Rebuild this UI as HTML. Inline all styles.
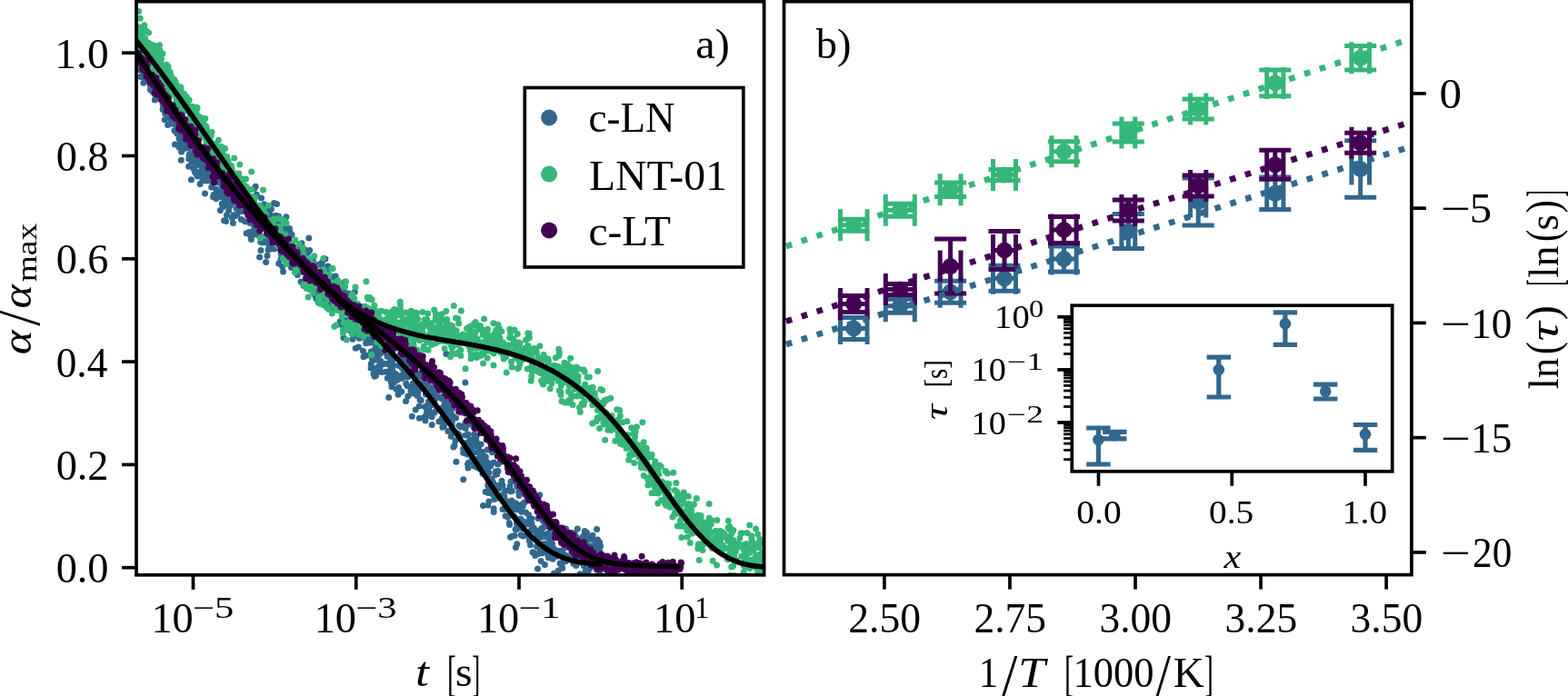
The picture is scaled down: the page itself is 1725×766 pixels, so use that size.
<!DOCTYPE html>
<html><head><meta charset="utf-8"><style>
html,body{margin:0;padding:0;background:#fff;overflow:hidden;}
svg{display:block;}
text{font-family:'Liberation Serif', 'DejaVu Serif', serif;fill:#000;}
</style></head><body>
<svg width="1725" height="766" viewBox="0 0 1725 766">
<rect width="1725" height="766" fill="#fff"/>
<defs><clipPath id="cl"><rect x="150.0" y="1.7" width="690.6" height="631.0999999999999"/></clipPath></defs>
<g clip-path="url(#cl)">
<path d="M150.3 64.1h.01M151.7 52.1h.01M151.9 61.4h.01M152.2 66.3h.01M152.7 61.1h.01M152.7 51.6h.01M152.9 63.3h.01M153 69.8h.01M154.2 76.9h.01M154.6 54.4h.01M154.8 84.4h.01M156 63.4h.01M156.5 77.1h.01M156.5 78.8h.01M156.8 77.7h.01M157.2 73.2h.01M157.3 65.2h.01M157.7 77.1h.01M157.7 68.7h.01M157.7 57.4h.01M157.9 91.2h.01M158.7 79.3h.01M159 86.8h.01M159.4 70.2h.01M159.6 85.5h.01M160.4 87.7h.01M160.8 88.2h.01M161.4 79.2h.01M162.9 74.1h.01M163 80.9h.01M163.2 68.2h.01M163.5 72h.01M163.7 83.8h.01M164.3 77.8h.01M164.9 84.1h.01M165.4 85.3h.01M165.5 98.8h.01M165.5 94.7h.01M165.8 86.4h.01M166.6 96h.01M166.7 83h.01M166.9 86.3h.01M166.9 94.5h.01M167.1 80.7h.01M167.4 87.5h.01M167.4 80.8h.01M167.6 90.5h.01M168 101.2h.01M168 85.5h.01M168.1 92h.01M168.3 84.9h.01M169.5 85.2h.01M170 85.4h.01M170.3 103.8h.01M170.3 110h.01M170.8 98.1h.01M171.4 91.1h.01M171.7 101.2h.01M171.8 94.4h.01M172.5 103.2h.01M172.7 100h.01M173.5 101.3h.01M173.8 104h.01M173.9 96.1h.01M175.3 99.6h.01M175.3 90.6h.01M175.6 99.8h.01M175.7 93.3h.01M176 102.4h.01M176 96.9h.01M176.8 105.5h.01M177.3 108.7h.01M177.8 96.6h.01M177.9 100.9h.01M179 101.8h.01M179 113.6h.01M179.1 120.4h.01M179.2 114.5h.01M179.3 106.3h.01M179.3 119.1h.01M180.2 99.8h.01M180.3 121.2h.01M180.5 106.5h.01M181.3 92.6h.01M181.3 131.8h.01M181.7 124.9h.01M182 106.5h.01M182.3 116h.01M182.9 114.3h.01M183.4 117.9h.01M183.8 106.5h.01M184 113.1h.01M184.1 122h.01M184.2 120.4h.01M184.3 128.1h.01M184.5 120h.01M184.6 137.6h.01M185.2 115.1h.01M185.5 123.5h.01M185.9 107.1h.01M186.1 112.6h.01M187.5 136.2h.01M187.5 117.9h.01M187.8 130.4h.01M187.8 125.6h.01M188 117.9h.01M188.5 124.6h.01M188.6 123.4h.01M188.9 124.2h.01M189.4 135.8h.01M189.7 135.5h.01M189.7 125.1h.01M191 124.8h.01M191.6 136.4h.01M191.7 133.3h.01M191.9 143.6h.01M192.4 159h.01M192.9 144.2h.01M192.9 136.3h.01M193.2 135.6h.01M193.4 129.8h.01M193.4 129.4h.01M194.2 130.1h.01M194.3 135.8h.01M194.5 135.8h.01M194.6 146.7h.01M194.6 136.3h.01M194.9 138.9h.01M196.1 131.6h.01M196.8 160.2h.01M196.9 149.4h.01M197 162h.01M197 152.5h.01M197.4 160.1h.01M197.7 143.9h.01M198.3 154.5h.01M199.3 176.2h.01M199.4 137.6h.01M199.5 161.6h.01M199.6 166.9h.01M199.8 154.7h.01M200 158.5h.01M200.7 164.8h.01M201.4 146.3h.01M201.4 157.3h.01M201.8 144.6h.01M201.9 146.7h.01M202.8 148.7h.01M203.8 155.1h.01M204.5 159.2h.01M204.8 162.9h.01M205.6 144.4h.01M207.6 183.3h.01M207.7 174.8h.01M208 170.6h.01M208 159h.01M208.4 162.6h.01M208.6 169.6h.01M209.6 169.6h.01M209.8 147.5h.01M210.2 174.1h.01M210.4 197.8h.01M210.8 147.1h.01M210.9 178h.01M212.7 173.9h.01M212.9 168.9h.01M213 185.3h.01M213.1 157.5h.01M213.2 172.3h.01M213.9 187.7h.01M213.9 169.5h.01M214 167.1h.01M214 173h.01M214.4 167.4h.01M214.5 189.4h.01M214.6 162.6h.01M214.8 182.5h.01M215 159.4h.01M215.2 180.9h.01M215.5 172.7h.01M215.6 145.5h.01M216 174.6h.01M216.1 162.9h.01M216.1 169.9h.01M216.3 192.3h.01M216.6 163.1h.01M216.9 164.2h.01M217.1 192.4h.01M217.4 178h.01M217.4 194h.01M217.7 180.8h.01M218.2 168h.01M218.5 177.5h.01M218.6 192.3h.01M218.8 189.4h.01M219.2 179.3h.01M219.5 180.3h.01M219.8 178.9h.01M220 174h.01M220.1 202.4h.01M220.1 180.7h.01M220.1 167.8h.01M220.5 175.8h.01M220.6 189.5h.01M220.7 188.7h.01M221 180.3h.01M221.2 174.6h.01M221.4 182.8h.01M221.6 163.7h.01M221.9 168.3h.01M222.3 192.8h.01M222.6 178.7h.01M222.6 188.5h.01M222.9 198.7h.01M224.5 194.4h.01M224.7 187.4h.01M225.5 213h.01M225.8 196.5h.01M226 185h.01M226.9 198.9h.01M227.2 195.5h.01M227.3 181h.01M227.7 192.3h.01M228.5 190.7h.01M228.9 170.1h.01M229.1 191.4h.01M229.4 190.6h.01M229.8 189.2h.01M230.2 175.6h.01M232 193.3h.01M232.4 197.6h.01M232.4 199.4h.01M232.6 184.8h.01M232.7 206.1h.01M233.1 184.5h.01M233.4 196.8h.01M234.5 216.8h.01M234.7 192.9h.01M234.9 195.4h.01M235 214.6h.01M235 197.1h.01M235.8 199.3h.01M237.7 208.2h.01M237.8 218.5h.01M238.6 179.6h.01M238.6 196.6h.01M238.9 194.8h.01M238.9 193.9h.01M239.9 198h.01M240.2 198.5h.01M240.3 212.6h.01M240.5 198.2h.01M240.7 210.8h.01M241.1 214.7h.01M241.8 201.4h.01M241.9 212.1h.01M242.4 231.6h.01M243.9 216.7h.01M244.1 204.6h.01M244.1 211.9h.01M244.2 201.1h.01M244.2 216.3h.01M244.3 223.9h.01M244.3 202.6h.01M244.4 210.4h.01M245 227.8h.01M245.1 207.4h.01M245.5 216.6h.01M245.8 201.3h.01M246 204.1h.01M246.6 208.5h.01M246.6 242.7h.01M246.9 210.3h.01M247.6 209.4h.01M247.7 209.1h.01M247.9 214.4h.01M248.5 225.5h.01M248.5 219.5h.01M248.6 243.6h.01M249 220.4h.01M249.5 236.8h.01M250.1 222.2h.01M250.1 226.5h.01M250.9 200.5h.01M251 217.8h.01M251.3 218.9h.01M251.4 216.7h.01M251.4 191.6h.01M251.6 231.7h.01M252.2 215.5h.01M252.6 215.2h.01M252.6 217.7h.01M252.7 218.1h.01M253 226.8h.01M253.1 204.6h.01M253.6 209.6h.01M253.7 226h.01M253.8 224.1h.01M253.9 217.2h.01M254 214.7h.01M254.8 211.9h.01M254.9 222.5h.01M255.3 239.6h.01M255.8 209.8h.01M256.4 245.5h.01M257 236.8h.01M257.5 219.5h.01M258.8 237.8h.01M259 206.8h.01M259.2 203.3h.01M259.5 209.6h.01M259.8 222.1h.01M259.9 223.5h.01M260.1 220.9h.01M260.1 229.6h.01M260.2 198.4h.01M260.9 235.9h.01M261.2 209.2h.01M262.2 220.8h.01M262.4 224.4h.01M262.6 214.1h.01M263.3 211.5h.01M263.8 217.1h.01M265.3 232.8h.01M265.3 241.6h.01M265.9 241.8h.01M266.3 219.4h.01M267.8 223.6h.01M268.1 222h.01M269.6 243.7h.01M269.7 206.5h.01M271.1 256.7h.01M271.2 230.7h.01M272.6 226.8h.01M272.7 244h.01M274 255.5h.01M275 245.4h.01M275.4 256.8h.01M275.7 242.6h.01M276 259.9h.01M276.1 260.2h.01M276.2 239.3h.01M276.4 263.4h.01M276.7 243.6h.01M276.7 242.5h.01M277.3 226.9h.01M277.8 237.1h.01M278.5 254.4h.01M279.4 221.6h.01M279.4 252.9h.01M279.4 248.1h.01M279.6 247.1h.01M279.8 207.5h.01M279.8 241.1h.01M280.5 253.6h.01M281 231.1h.01M281.1 245h.01M281.2 205.2h.01M281.6 254.6h.01M281.6 233h.01M282.2 258.2h.01M282.3 214.2h.01M283.3 255.9h.01M283.8 241h.01M284 258.3h.01M285 230.3h.01M285.2 235.5h.01M285.6 283h.01M286.1 232.3h.01M286.1 234.4h.01M286.2 241.6h.01M286.3 229.2h.01M286.7 266.3h.01M287 275.4h.01M287 234.8h.01M287.5 217.9h.01M287.9 266.7h.01M288.1 265.8h.01M288.3 261.1h.01M288.8 267.1h.01M289 233h.01M289.8 245.2h.01M290.4 225h.01M290.9 225h.01M292.3 266.5h.01M292.5 239h.01M292.6 288.5h.01M292.7 251.6h.01M293.6 240.5h.01M293.8 264.6h.01M294 281.4h.01M294.3 259.8h.01M294.6 231.9h.01M294.9 258.3h.01M295.1 275.1h.01M295.4 244.6h.01M295.7 240.2h.01M295.8 269.7h.01M296.7 256.1h.01M297.1 236.1h.01M297.5 248.2h.01M297.6 242.2h.01M298 259.6h.01M298.1 256.7h.01M298.2 273.6h.01M298.4 266.6h.01M298.4 229.9h.01M298.8 262h.01M299.7 270.6h.01M299.8 263.6h.01M300 272.9h.01M300 247.6h.01M300.1 241.3h.01M300.1 271.4h.01M300.5 239.8h.01M301.5 223.4h.01M301.7 274.1h.01M302 246.7h.01M302.2 253.4h.01M303.4 237.3h.01M303.7 238.7h.01M303.8 241.5h.01M304 254.1h.01M304.4 265.8h.01M304.5 224.4h.01M305.1 272.2h.01M305.2 242.3h.01M305.6 244.5h.01M305.6 271.4h.01M306 260.1h.01M306.4 238h.01M306.7 290.1h.01M306.9 248.8h.01M307 265.9h.01M308.4 266.2h.01M309 285h.01M309 256.8h.01M309.2 279h.01M309.4 252.8h.01M309.9 281.2h.01M310.2 253.2h.01M310.2 259.2h.01M310.6 293.3h.01M310.7 269.7h.01M311.4 267.2h.01M311.5 298.9h.01M311.9 271.3h.01M312.1 254h.01M312.2 277h.01M312.8 249.3h.01M312.8 283.3h.01M313 284.5h.01M313.2 258.6h.01M313.8 258.3h.01M313.9 270.1h.01M314.6 268.3h.01M314.6 253.8h.01M314.9 276.5h.01M314.9 238.7h.01M315.4 262.4h.01M315.5 262.9h.01M315.7 265h.01M316.3 273.8h.01M317 252.4h.01M317.5 278.7h.01M317.5 267.8h.01M317.9 261.4h.01M318.4 251.6h.01M318.7 254.5h.01M318.9 276.5h.01M319.5 258.3h.01M319.8 272.9h.01M320.2 287.3h.01M320.3 287h.01M320.5 294.5h.01M320.6 268.8h.01M321 258.2h.01M321.6 288h.01M321.8 278.3h.01M321.9 289.7h.01M322 274.4h.01M322.4 291.1h.01M323.1 287h.01M323.1 285.2h.01M323.4 282.6h.01M324.1 281.9h.01M326 281.6h.01M326.1 281.5h.01M326.2 291.9h.01M326.8 272.4h.01M327.2 302.6h.01M327.9 278.9h.01M328.3 293.7h.01M329.3 280.6h.01M330.5 279.7h.01M331 309.9h.01M331.6 280h.01M332 267.8h.01M332.5 275.7h.01M333.5 281.8h.01M333.9 314.4h.01M335 290.1h.01M335.3 299.9h.01M335.3 274.8h.01M335.8 292.8h.01M335.9 297.1h.01M336.3 312.2h.01M336.5 279.9h.01M337.2 297.5h.01M338.4 294.8h.01M338.9 278.1h.01M339.2 291.4h.01M339.7 288.7h.01M339.8 262h.01M340.3 300.5h.01M340.3 299.8h.01M340.5 287.3h.01M340.6 275.6h.01M340.6 312.3h.01M340.9 296.8h.01M341.2 306.8h.01M341.6 312.4h.01M341.9 287.5h.01M342.2 305.2h.01M342.7 292h.01M342.8 294.4h.01M342.9 294.3h.01M343.1 295.5h.01M343.6 310.5h.01M343.7 297.7h.01M344.1 294.5h.01M344.2 293h.01M344.3 301.1h.01M344.3 285.1h.01M344.8 290.6h.01M344.9 296.6h.01M345.1 290.1h.01M345.3 296.2h.01M345.3 289.8h.01M346.6 325.1h.01M346.7 316.4h.01M346.9 305.1h.01M347.5 299.2h.01M347.7 328.5h.01M348.4 304.9h.01M348.4 299.6h.01M348.4 304.7h.01M348.5 304.8h.01M348.5 319.1h.01M349.6 301.6h.01M349.7 329.3h.01M350.8 291.6h.01M350.9 312.2h.01M351.8 291h.01M351.8 327.7h.01M352.2 300.2h.01M352.3 303.8h.01M352.5 316.8h.01M352.8 321.4h.01M353.9 291.7h.01M354.2 301.9h.01M354.4 288.4h.01M356.1 310h.01M356.1 306.9h.01M356.3 303.9h.01M356.3 299.6h.01M356.5 303.6h.01M357 299.4h.01M357.1 316.1h.01M357.8 329.6h.01M357.9 284.9h.01M358 308.6h.01M358.2 304.9h.01M358.6 317.1h.01M358.8 298.5h.01M358.9 309.1h.01M359.4 298h.01M359.6 320.7h.01M359.9 313.3h.01M360.4 310.5h.01M360.5 317.5h.01M360.7 309.8h.01M360.8 292.9h.01M361.5 321.9h.01M362.4 319.1h.01M362.5 313.5h.01M363.8 330.1h.01M364.5 334h.01M364.9 304.6h.01M365.2 308.9h.01M365.4 339.5h.01M365.6 338.1h.01M366.2 310.9h.01M366.5 305.6h.01M367 313.3h.01M368.4 317.1h.01M369.2 304.1h.01M369.3 325.1h.01M369.5 308.4h.01M369.8 309.6h.01M370.2 337.8h.01M370.5 317.6h.01M371.5 326.9h.01M371.6 336.1h.01M371.9 338.9h.01M372.6 324.9h.01M372.8 330.1h.01M372.9 318.9h.01M374.1 354h.01M374.1 339.7h.01M374.2 317.1h.01M375.3 333h.01M375.4 342.3h.01M375.4 339.4h.01M376 357.6h.01M376.7 352.6h.01M377.1 328.4h.01M377.1 334.2h.01M377.6 319.4h.01M377.7 339.5h.01M377.9 338.4h.01M377.9 371.7h.01M378.5 338.5h.01M378.9 310.6h.01M379 329.3h.01M379.1 339.5h.01M379.1 321.8h.01M379.4 327.3h.01M379.5 333.9h.01M380 343.8h.01M381.6 339.4h.01M381.8 330.2h.01M381.9 352.2h.01M382 335h.01M382.6 336.3h.01M382.8 325h.01M383 333.1h.01M383.3 352.5h.01M383.7 323.1h.01M384.2 344.1h.01M384.5 355h.01M384.6 340.6h.01M384.9 349.2h.01M385.3 331.7h.01M385.4 364.1h.01M385.5 361.5h.01M386.7 351.6h.01M387.3 325.8h.01M387.6 335.8h.01M387.7 363h.01M388 373.2h.01M388 354.3h.01M388.1 367.1h.01M388.3 342.5h.01M388.5 348.4h.01M388.5 351h.01M388.5 356.6h.01M388.7 330.7h.01M388.9 364.2h.01M389 369.4h.01M389.5 336.8h.01M389.6 334.2h.01M389.9 357.7h.01M390 344.1h.01M390.3 321.3h.01M390.4 364.5h.01M390.4 355.7h.01M391.1 348h.01M391.2 383.3h.01M391.3 356.6h.01M391.6 345h.01M392.4 357.6h.01M392.5 342.3h.01M392.8 346.4h.01M392.9 362.2h.01M393.4 350.1h.01M394 352.3h.01M394.4 381.9h.01M395.3 372.2h.01M395.7 371.9h.01M397.9 371.3h.01M398.5 371.4h.01M399.4 386.2h.01M399.9 366.4h.01M400 392.7h.01M400.5 354.1h.01M401.4 365.1h.01M401.9 349.9h.01M402.4 365.3h.01M402.6 377.7h.01M402.8 391.2h.01M403.2 361.8h.01M403.3 371.4h.01M404.4 367.8h.01M404.5 362.5h.01M404.7 356.3h.01M405.2 374.9h.01M405.4 349.5h.01M405.9 376.6h.01M407.3 377.2h.01M407.7 368h.01M407.9 363.2h.01M407.9 357.8h.01M408 404.9h.01M408.1 358.7h.01M408.2 400.6h.01M408.3 387h.01M408.6 373.5h.01M408.6 362.1h.01M409.3 394.8h.01M409.4 404.9h.01M410 367.1h.01M410 376.4h.01M410.4 396.6h.01M410.6 386.4h.01M411 411.2h.01M411.5 374.5h.01M411.6 390.8h.01M411.8 364.9h.01M412.1 414.3h.01M412.6 373.7h.01M412.7 352.1h.01M412.9 382.9h.01M413.2 383.2h.01M413.4 413.6h.01M413.6 380.8h.01M413.9 386.1h.01M414.2 395.4h.01M414.3 410.1h.01M414.4 385.9h.01M415.6 404h.01M415.6 396.3h.01M415.8 384.5h.01M416 390.3h.01M416 389.6h.01M416.8 376.7h.01M416.8 408.4h.01M416.9 369.9h.01M417.1 408.1h.01M417.1 404.9h.01M417.6 390h.01M417.9 380.5h.01M417.9 388.5h.01M418.2 399.3h.01M418.3 403.5h.01M418.6 397.2h.01M419.8 409.4h.01M421.6 387.4h.01M423 400.2h.01M424.5 373.8h.01M424.5 409.2h.01M425.7 400.6h.01M426 392.2h.01M426.2 416.3h.01M426.5 409.3h.01M427.1 356.2h.01M427.3 399.9h.01M427.4 377.2h.01M427.5 415.7h.01M427.7 437.5h.01M427.7 391.7h.01M429 401.5h.01M429.5 396.8h.01M430 406.3h.01M430.1 410.9h.01M430.4 421h.01M430.6 386.2h.01M431 425.8h.01M431.2 387.4h.01M431.6 406.2h.01M431.6 419.8h.01M431.6 413h.01M431.8 387.7h.01M432 391.4h.01M432.5 395.4h.01M432.8 402h.01M433.4 420.8h.01M433.4 383.2h.01M434 410.8h.01M434.6 413.4h.01M435.6 413.2h.01M435.8 411.9h.01M435.9 428.3h.01M436.3 412.6h.01M436.6 418.6h.01M437.8 414.8h.01M438.1 434.2h.01M438.2 376.6h.01M438.5 426.5h.01M438.6 402.5h.01M438.8 402.3h.01M439 391.7h.01M440.3 378.4h.01M440.7 402h.01M441.1 397.4h.01M441.7 416.4h.01M441.7 385.5h.01M441.7 431.1h.01M441.9 413.1h.01M442.4 405.2h.01M443 398.3h.01M443.5 397.5h.01M443.7 392.2h.01M444.1 401.7h.01M444.4 410.6h.01M444.6 407.8h.01M444.9 388.5h.01M445 406.7h.01M445.9 397.4h.01M446.5 414.5h.01M446.5 441.6h.01M446.7 422h.01M446.7 407.1h.01M446.9 386.4h.01M447.3 390h.01M447.7 385.9h.01M448 424.6h.01M448.2 401h.01M448.4 414.3h.01M448.7 403.6h.01M448.8 415h.01M448.8 436h.01M450.5 403.8h.01M450.6 409.4h.01M451.7 402.7h.01M452 430h.01M452.1 399.5h.01M452.2 397.8h.01M452.3 393.8h.01M452.8 393.8h.01M453.3 424.4h.01M453.3 458.2h.01M453.7 401.1h.01M454.5 433.1h.01M454.5 421.8h.01M455.5 400.6h.01M456.2 414.5h.01M456.2 415.3h.01M456.3 407.9h.01M457.2 451.1h.01M457.4 388.9h.01M457.9 426.5h.01M458.3 426h.01M458.5 411.3h.01M458.5 423.2h.01M459.1 435.5h.01M459.7 424.2h.01M459.8 428.5h.01M459.9 433.1h.01M461.1 389.4h.01M461.2 447h.01M461.3 460.3h.01M462 439.5h.01M462 440.1h.01M462.1 400.4h.01M462.7 422.1h.01M463.1 411h.01M463.1 414.7h.01M463.3 440.4h.01M463.6 411.5h.01M464.1 423h.01M464.6 394h.01M465.7 423.8h.01M466 428.1h.01M466 415h.01M466.4 415h.01M467 458.7h.01M467 407.4h.01M467.4 410.3h.01M467.6 414.5h.01M467.6 447.8h.01M467.9 463.1h.01M468.4 434.1h.01M468.6 416.8h.01M468.9 421.8h.01M469 446.8h.01M469.3 414.1h.01M469.4 453.6h.01M470 453.6h.01M470.8 431.8h.01M471.5 441.9h.01M471.6 443.8h.01M471.8 457.4h.01M471.8 413.8h.01M472 451.3h.01M472.2 425.4h.01M472.3 419h.01M472.4 433.6h.01M473.1 428.9h.01M473.1 416h.01M473.6 406.1h.01M474.2 417.6h.01M475.2 458.7h.01M475.2 467.4h.01M475.5 445.5h.01M475.6 454.6h.01M475.7 426h.01M475.8 433.5h.01M476.2 440h.01M476.6 417.3h.01M476.7 418.8h.01M477 437.5h.01M477.5 430.9h.01M477.5 418.3h.01M477.6 442.9h.01M477.8 432.1h.01M478.1 454.1h.01M478.3 436.9h.01M478.5 432.1h.01M478.6 439.4h.01M479.4 435.1h.01M479.6 426.8h.01M480 431.7h.01M480.1 451.4h.01M481.3 451.2h.01M482.9 464.1h.01M483.2 413.7h.01M484.1 437h.01M485.4 438.3h.01M486.1 449.2h.01M486.3 438.8h.01M486.3 437.8h.01M486.5 460.2h.01M486.6 450h.01M486.8 427.2h.01M486.9 470.2h.01M487 464.5h.01M487.5 438.3h.01M487.7 462.6h.01M488.1 436.2h.01M488.5 468.7h.01M488.8 446.1h.01M489.1 436.4h.01M489.2 443.9h.01M489.2 437.2h.01M489.6 454.2h.01M490.3 454.7h.01M490.3 452.4h.01M490.8 442.9h.01M490.9 389.6h.01M491 454.3h.01M492.2 421.6h.01M492.7 459.2h.01M492.9 474.6h.01M493 460h.01M493.9 449.9h.01M494 453.5h.01M494 454.4h.01M494.5 447.8h.01M494.6 447.4h.01M495.2 442.3h.01M496.3 480.3h.01M496.3 459.5h.01M496.4 476.3h.01M496.8 456.1h.01M497 461.9h.01M497.1 457.8h.01M497.2 468.9h.01M497.3 475.3h.01M497.3 465.3h.01M497.5 449.7h.01M498.4 449.1h.01M498.9 492h.01M498.9 458.5h.01M499.7 459.3h.01M500 490.2h.01M501 485h.01M501.4 476h.01M501.6 460h.01M501.9 508.3h.01M504.3 477.6h.01M504.4 480.3h.01M504.9 468.5h.01M505.3 447.4h.01M505.6 449.2h.01M506 480.1h.01M506.2 480.2h.01M506.7 469.9h.01M506.9 453.9h.01M507 449.2h.01M507.6 469.6h.01M507.6 449.9h.01M509.6 493.9h.01M509.6 498.3h.01M509.7 527.7h.01M509.9 493.8h.01M511.5 470.6h.01M511.7 466.1h.01M511.8 420.9h.01M512.1 471.5h.01M512.2 478.9h.01M512.4 499.3h.01M512.5 493.3h.01M512.7 493.2h.01M513.3 487.5h.01M514 496.4h.01M514.5 511h.01M514.7 467.3h.01M514.8 478h.01M514.9 461.8h.01M515 514.9h.01M515.2 509.5h.01M515.4 500.2h.01M516.1 467h.01M516.3 491.5h.01M516.6 484.7h.01M517.1 491.2h.01M517.9 487.7h.01M518 500.2h.01M518 484.2h.01M518.5 507h.01M518.6 496.3h.01M518.6 486.9h.01M518.9 490.5h.01M519.1 485.1h.01M519.3 507.5h.01M519.5 488.6h.01M519.7 498.9h.01M520.8 488.5h.01M521.2 469.8h.01M521.6 512.8h.01M521.6 478.1h.01M522.4 510h.01M522.5 505.5h.01M522.7 469h.01M523.7 483.2h.01M523.8 491h.01M524.2 486.2h.01M524.2 479.8h.01M524.4 514.2h.01M525.2 498.1h.01M525.4 509.5h.01M525.6 495.4h.01M526.7 510.1h.01M526.8 491.6h.01M527 504.7h.01M527 515.6h.01M527.4 506.7h.01M528.3 499h.01M529.1 489.1h.01M529.2 511.6h.01M529.8 515.7h.01M530.3 505.8h.01M530.8 497.4h.01M531.1 521.3h.01M531.5 556.5h.01M531.6 507.1h.01M531.7 518.6h.01M532.2 520.1h.01M533.1 468.9h.01M534 518.4h.01M534.1 503.7h.01M534.1 541.2h.01M534.2 511.9h.01M534.4 502.8h.01M534.7 513.3h.01M535.1 521h.01M535.4 508.3h.01M535.5 517.6h.01M536 495.1h.01M536.5 516.1h.01M536.7 534.2h.01M536.8 555.9h.01M536.8 533.3h.01M537.3 526.2h.01M537.3 542.6h.01M537.4 539.8h.01M537.8 552h.01M537.9 541.8h.01M538 520.2h.01M538.9 528.4h.01M539.1 527.4h.01M539.2 529.7h.01M539.3 528.1h.01M539.5 510.6h.01M539.6 487.1h.01M539.7 512.9h.01M540.7 490.2h.01M541 528.3h.01M541.2 527.3h.01M541.5 497.7h.01M541.8 540.5h.01M542.4 544.6h.01M542.6 531.1h.01M543.1 559.8h.01M543.2 563.6h.01M543.3 508.9h.01M543.8 549.5h.01M543.8 539h.01M544 538.9h.01M544.5 548.7h.01M545.2 520.4h.01M545.2 522.6h.01M545.4 518.7h.01M546.6 521.9h.01M547.2 534.2h.01M547.6 511h.01M547.9 518.6h.01M548.4 547.9h.01M549 537.4h.01M550.1 546.8h.01M551.1 508.6h.01M552 529.3h.01M552.6 534.1h.01M552.7 544.4h.01M552.9 534h.01M553 560.5h.01M554.8 545.8h.01M554.9 547.2h.01M555 547.2h.01M555.7 560.2h.01M555.8 540.1h.01M556 567.8h.01M557.5 558.3h.01M557.5 553.1h.01M558.1 552h.01M558.1 560.2h.01M558.3 568.9h.01M558.4 567.9h.01M559.3 559.3h.01M559.4 567.9h.01M560.1 555.9h.01M560.2 575.4h.01M560.5 554h.01M560.5 519.3h.01M560.6 577.4h.01M560.8 556.7h.01M561 535.3h.01M561.2 552h.01M561.4 540.7h.01M561.5 591.3h.01M561.9 564.7h.01M562 529.9h.01M562.7 566.6h.01M563 551h.01M563.2 590.3h.01M563.3 540.4h.01M563.8 521h.01M564.2 560.4h.01M565 554.5h.01M565.2 553.6h.01M565.5 525.2h.01M565.8 568.5h.01M566.1 589.6h.01M566.2 530h.01M567.1 582.4h.01M567.3 553.8h.01M567.4 602.4h.01M567.4 570.6h.01M568 560.9h.01M568.2 582.7h.01M568.3 573.2h.01M568.4 554.7h.01M568.5 576.5h.01M568.7 556.5h.01M568.8 535.4h.01M568.8 598.7h.01M569.3 559.9h.01M569.6 556h.01M570.5 572.7h.01M570.7 541.7h.01M571 545.5h.01M571.8 560.5h.01M572.6 561.1h.01M572.8 571h.01M573.3 588.8h.01M573.7 563.2h.01M574 579.2h.01M574.4 581.5h.01M575 554.7h.01M575.2 576.3h.01M575.2 557.3h.01M575.3 590h.01M575.4 580.2h.01M576.4 574.2h.01M577 553h.01M577.5 577.1h.01M578.5 563.9h.01M580.2 589.3h.01M581 576.9h.01M581.6 566.6h.01M582.3 594.9h.01M582.5 591.8h.01M582.7 571.2h.01M583.5 599.8h.01M583.7 576.9h.01M583.9 576.9h.01M584.1 584h.01M584.8 570.8h.01M585 575.9h.01M585.9 581.2h.01M586 607.8h.01M587 608.2h.01M587.3 580.9h.01M588.7 611.4h.01M590.1 586.9h.01M590.3 593.6h.01M590.5 601.6h.01M590.6 592.5h.01M591.5 626h.01M591.8 592.7h.01M591.9 570.6h.01M592.3 609.5h.01M593 583.7h.01M593.4 585.7h.01M593.7 544.7h.01M593.9 606.1h.01M594 603.4h.01M594.9 603.7h.01M595 606.5h.01M595.1 617.4h.01M595.4 591.2h.01M595.6 606.4h.01M596.1 581.2h.01M596.1 587.1h.01M596.3 608.7h.01M596.9 599h.01M597.1 573h.01M597.2 598.8h.01M597.2 590.6h.01M597.3 581h.01M597.5 600.1h.01M598.6 588.3h.01M599 571h.01M599.1 578h.01M599.4 621.5h.01M599.5 572.2h.01M599.6 598.4h.01M599.9 604.4h.01M600.6 605.3h.01M600.7 577.4h.01M601 591.1h.01M601.9 598.5h.01M602.6 608.7h.01M602.6 587.3h.01M602.8 579.6h.01M603 611.9h.01M603.5 613.7h.01M603.7 602.9h.01M603.8 588.5h.01M604.2 603.7h.01M604.5 599.5h.01M604.8 610.4h.01M605 579.7h.01M605.2 599.9h.01M605.3 595.9h.01M605.7 582.1h.01M606 601.8h.01M606.5 599.4h.01M606.6 592.9h.01M607.2 605h.01M607.5 578.5h.01M607.5 598.5h.01M607.5 605.6h.01M607.9 603.7h.01M608.1 615.3h.01M609 582.5h.01M609.1 578.1h.01M609.1 603.5h.01M609.4 606.8h.01M609.5 631h.01M609.6 609.2h.01M610.1 587.8h.01M610.9 612.4h.01M612 589.1h.01M612.2 580h.01M613.1 606.3h.01M613.7 612.1h.01M614.1 610.1h.01M614.2 628h.01M615.5 606.6h.01M616.1 620h.01M616.9 588.5h.01M617.6 583.6h.01M618.2 623.5h.01M618.2 624.2h.01M618.5 610.6h.01M618.5 606.7h.01M618.7 605.9h.01M618.7 593.9h.01M618.8 625.2h.01M618.8 612.8h.01M619.2 610.8h.01M619.5 609h.01M619.6 618.5h.01M620.1 611h.01M620.1 614.4h.01M620.7 587.8h.01M620.8 611.2h.01M620.8 634.6h.01M621.3 597h.01M621.9 602.6h.01M621.9 616.8h.01M622.3 617.8h.01M622.3 613.2h.01M622.5 582.1h.01M622.7 611.5h.01M623 588.3h.01M623 593.2h.01M624 612.5h.01M624.3 600.9h.01M624.6 616.2h.01M625.1 615.8h.01M625.1 615.1h.01M626.9 593.2h.01M627.2 596.8h.01M627.9 591.2h.01M628.9 598.6h.01M629 591h.01M629.4 597h.01M629.5 603.1h.01M629.6 592.4h.01M630 586.8h.01M630.2 587.7h.01M630.4 612.2h.01M630.8 606.9h.01M630.9 619.9h.01M630.9 620.2h.01M630.9 601.5h.01M631.4 615.2h.01M632.1 587h.01M633.7 622.4h.01M633.8 603.6h.01M634.2 591.1h.01M635.3 611.7h.01M635.3 581.9h.01M635.4 596.4h.01M635.4 616.6h.01M635.8 607.7h.01M636.4 600.3h.01M636.7 619.3h.01M636.9 593.1h.01M637.1 610.6h.01M637.1 600.3h.01M637.4 595.7h.01M637.5 612.9h.01M637.6 593.9h.01M638.1 631.8h.01M638.2 599.3h.01M640.7 633h.01M641 593h.01M641.4 615.1h.01M641.6 591.8h.01M641.6 590h.01M641.9 609.4h.01M641.9 616.1h.01M642.2 591h.01M642.4 622.7h.01M642.6 597.2h.01M642.7 609.2h.01M642.8 612.4h.01M643 615.2h.01M643.3 584.5h.01M644.2 628.4h.01M644.3 614.9h.01M644.3 602.2h.01M645.2 594.7h.01M645.5 586.2h.01M645.5 590.5h.01M645.9 614.8h.01M646.5 603.6h.01M646.6 593.6h.01M646.7 601.3h.01M647.4 627.9h.01M647.9 604h.01M648 600.8h.01M649.3 625.3h.01M650.6 614.2h.01M651.1 609h.01M651.6 601h.01M652 589.2h.01M652.2 594h.01M652.8 602.7h.01M653.6 606h.01M653.9 613.2h.01M655 615.7h.01M655.8 611.7h.01M656.3 611.7h.01M656.6 596.7h.01M656.6 582.6h.01M656.8 602.6h.01M657.1 597.4h.01M657.2 601.1h.01M657.3 605.7h.01M657.6 593.9h.01M657.8 595.6h.01M657.9 607.9h.01M658.1 610.5h.01M658.4 601.2h.01M659.2 615.2h.01M659.6 606.6h.01M659.7 596.9h.01M659.8 609.7h.01M660.3 632h.01M660.6 601.1h.01M661.5 623.4h.01M661.7 625.9h.01" stroke="#31688e" stroke-width="7.0" stroke-linecap="round" fill="none"/>
<path d="M150.6 28.9h.01M150.8 36.1h.01M151.2 39.7h.01M151.3 45.5h.01M151.5 37.3h.01M151.7 53.6h.01M151.9 34.3h.01M152 30.9h.01M152.2 32.6h.01M152.6 12.6h.01M152.7 29.9h.01M153.6 49.1h.01M153.8 42.1h.01M153.9 31.6h.01M154.1 43.3h.01M154.2 20.2h.01M154.7 37.9h.01M155 46.3h.01M155.7 49h.01M156.7 36.1h.01M157.1 53.1h.01M157.2 62.5h.01M157.9 41.2h.01M158.4 53.2h.01M158.6 31.4h.01M158.8 27.7h.01M159.2 53.1h.01M159.2 47.7h.01M159.3 49.3h.01M159.8 42.5h.01M160.1 45.8h.01M160.7 57.1h.01M160.7 65.9h.01M160.9 47.7h.01M160.9 34h.01M161 62h.01M161 55.6h.01M161.2 56.7h.01M161.7 52.6h.01M162.4 73.9h.01M162.7 53h.01M163.4 58.2h.01M163.5 35.9h.01M163.6 48.1h.01M163.9 47.6h.01M164.3 54.3h.01M166.6 61.3h.01M167.5 52.4h.01M167.8 75.8h.01M167.8 49.8h.01M168.2 56.2h.01M168.3 62.7h.01M168.8 49.8h.01M169.7 67.8h.01M169.8 68.6h.01M169.8 60.1h.01M170.3 81.1h.01M172.2 67h.01M172.3 69h.01M172.9 58.6h.01M173.1 52.4h.01M173.2 62h.01M174 66.1h.01M174 65h.01M174.6 76.9h.01M175.4 49.7h.01M175.4 61h.01M175.9 55.6h.01M176.5 85h.01M176.6 68.1h.01M177.2 69.5h.01M177.5 64.8h.01M178.6 84.5h.01M178.8 73.1h.01M179 79.1h.01M179 59.1h.01M179.5 88.3h.01M180.2 82.6h.01M180.5 84.5h.01M181.1 91.5h.01M181.2 79h.01M181.5 79.8h.01M181.7 87.8h.01M181.8 85.5h.01M181.9 79.8h.01M182.1 82.6h.01M182.1 77.9h.01M182.2 88.7h.01M182.3 90.7h.01M182.7 83.3h.01M183.2 100.4h.01M183.5 71.2h.01M184.4 84h.01M184.6 101.2h.01M184.7 83h.01M185 73.3h.01M185.1 99.3h.01M185.4 92.5h.01M185.5 77.6h.01M185.6 94.7h.01M186.6 81h.01M187.2 79.3h.01M187.7 90.3h.01M188.1 88.3h.01M188.2 83.2h.01M189 90.7h.01M189.7 86.4h.01M189.7 95.5h.01M189.8 94.9h.01M191.2 103.8h.01M191.8 94.7h.01M192 87.7h.01M193.1 89.8h.01M193.4 99.2h.01M193.6 114.2h.01M193.7 108.7h.01M193.9 96.8h.01M194.8 111.3h.01M194.9 94.3h.01M195.1 112.4h.01M195.4 101.4h.01M195.6 111.1h.01M195.7 110h.01M195.8 102.8h.01M196.1 108.1h.01M196.3 97h.01M197.1 106.3h.01M197.2 115.8h.01M197.3 140.4h.01M197.3 112.9h.01M198 108.8h.01M198.4 100.4h.01M198.5 117.4h.01M198.9 96.1h.01M199 103h.01M199 112.4h.01M199.1 100h.01M199.6 122.8h.01M200.9 121h.01M201.7 108.8h.01M201.8 109h.01M202.7 104.2h.01M202.7 103.6h.01M203.8 119.9h.01M203.9 121.5h.01M204.1 119.6h.01M204.6 119.6h.01M205.1 113.6h.01M205.3 121.3h.01M205.4 106.7h.01M205.6 118.9h.01M206 131.2h.01M206.6 130.9h.01M207 117.1h.01M207 118.2h.01M207.7 133h.01M208 136.6h.01M208.1 110.3h.01M208.3 119.2h.01M208.5 124.8h.01M208.5 132.7h.01M209.1 117h.01M209.4 129.5h.01M209.7 122.3h.01M209.8 143.9h.01M210 128.6h.01M210.2 124.3h.01M210.2 122.8h.01M210.6 134.5h.01M211 132h.01M211.6 118.7h.01M211.6 129.2h.01M212.1 117.4h.01M212.2 122.2h.01M212.4 118.1h.01M213.5 119.4h.01M213.7 124.8h.01M214.2 123.2h.01M215.1 136.7h.01M215.3 139.1h.01M215.7 131.3h.01M216.1 124.9h.01M216.4 140.7h.01M216.6 118.3h.01M217 119.6h.01M217.7 142h.01M217.9 141.7h.01M218.3 144.8h.01M218.5 135.5h.01M219.5 128.6h.01M219.8 135h.01M220 144h.01M220.1 133.5h.01M220.7 134.8h.01M220.9 129.5h.01M222 132.9h.01M222.3 149.6h.01M223.4 148h.01M223.7 135.5h.01M224.2 136.8h.01M224.3 141.1h.01M225.2 151.4h.01M225.3 137.7h.01M225.3 145.7h.01M225.8 130.6h.01M226.7 139h.01M226.9 152.8h.01M227 156.8h.01M227.2 140.6h.01M227.9 144.6h.01M228.3 157.9h.01M228.5 148.6h.01M228.7 147.7h.01M230.1 158.2h.01M230.1 155.6h.01M230.3 163.2h.01M230.3 160.7h.01M230.7 150.2h.01M230.8 154.2h.01M231.8 156h.01M232.3 146.3h.01M232.3 149.4h.01M232.4 165.2h.01M233 145.5h.01M234 167.6h.01M234.6 162.8h.01M234.7 159.6h.01M234.9 165.2h.01M235.5 165.7h.01M235.7 171.8h.01M235.9 159.2h.01M236.3 161.1h.01M236.8 161.7h.01M236.8 178.8h.01M236.8 171.3h.01M237.9 157.9h.01M238.2 163h.01M238.6 160.7h.01M238.6 166.4h.01M239.7 169.7h.01M240.2 187h.01M240.4 154.3h.01M241.1 178.2h.01M241.1 173.5h.01M241.2 164.4h.01M242.1 170.2h.01M242.2 167.6h.01M243.3 173.5h.01M243.6 181.7h.01M243.7 161.5h.01M244.5 185.4h.01M244.7 172.2h.01M244.8 187.3h.01M244.8 178.6h.01M244.8 185.2h.01M244.8 179.9h.01M245 184.4h.01M245.1 176.2h.01M245.1 169.2h.01M245.5 181.8h.01M245.9 182.7h.01M247.3 195.9h.01M247.7 163.5h.01M248.9 179.7h.01M249 189.9h.01M249.7 172.4h.01M250 181.1h.01M250.3 200.4h.01M251 195.8h.01M251.2 177.5h.01M251.7 196.8h.01M252.3 195.8h.01M252.7 193.1h.01M253.2 190.5h.01M253.5 189.9h.01M254.7 182.6h.01M255.2 186.1h.01M255.3 196.6h.01M255.6 192.1h.01M255.6 206.2h.01M256.7 189.8h.01M257.7 174h.01M257.8 191.4h.01M259.7 199.2h.01M260.1 200.6h.01M260.8 198.9h.01M261.3 192.1h.01M261.3 211.7h.01M261.4 193.6h.01M262.5 206.9h.01M262.7 198.6h.01M262.8 191.1h.01M263.2 214h.01M263.7 181.1h.01M263.8 195.4h.01M263.9 206.6h.01M264.2 200.2h.01M264.4 210h.01M264.7 203.2h.01M265 200.5h.01M265.1 223.1h.01M265.7 203.4h.01M266.2 204.7h.01M266.6 197.3h.01M266.9 200.6h.01M266.9 212.8h.01M267.5 212.9h.01M267.9 208.5h.01M269.3 204.4h.01M270.4 218.1h.01M270.5 197.1h.01M270.5 209.2h.01M270.8 210.4h.01M271 205.5h.01M271.6 215h.01M272.9 209.7h.01M273.1 208.7h.01M273.1 232h.01M273.4 223h.01M273.6 227.3h.01M273.6 217.1h.01M274.6 226.7h.01M274.8 225.2h.01M275.3 229.8h.01M275.5 240.6h.01M275.6 217.3h.01M276 222.2h.01M276.1 219.6h.01M276.6 188.9h.01M276.8 208.4h.01M276.9 221.4h.01M277 227.2h.01M277.1 216.3h.01M277.8 232.8h.01M278.3 234.9h.01M279.2 220.6h.01M279.8 238.3h.01M279.9 241.5h.01M280.2 230h.01M280.6 217.3h.01M282.4 242.5h.01M282.7 227.8h.01M284.1 227.6h.01M284.1 232.3h.01M284.4 226.5h.01M284.7 242h.01M285.1 239.8h.01M285.1 244h.01M285.3 238.2h.01M286 226.3h.01M286.1 232.3h.01M286.1 242.2h.01M286.2 230.2h.01M286.5 262.1h.01M286.6 232.3h.01M287 229.6h.01M287 246.1h.01M287.4 242.8h.01M287.5 235.5h.01M287.7 233.8h.01M288.2 240.7h.01M288.8 245.5h.01M288.8 244.8h.01M289.1 235h.01M289.1 242.1h.01M289.2 246.1h.01M289.2 245.4h.01M289.5 208.9h.01M289.7 230.2h.01M290.3 232.1h.01M290.6 237.8h.01M290.7 241.7h.01M290.7 248.9h.01M291.4 247h.01M292.2 240.8h.01M292.3 242.4h.01M292.3 259.2h.01M292.4 236.3h.01M292.6 245.5h.01M293.2 258.6h.01M295.1 249.3h.01M295.3 226.2h.01M295.4 250h.01M295.8 243h.01M296 246h.01M296.2 257.7h.01M296.4 252.2h.01M297.2 246h.01M297.2 257.5h.01M297.7 253.6h.01M297.9 250.6h.01M298.1 252.8h.01M298.5 252.8h.01M299.8 248.7h.01M299.9 247.6h.01M300.3 252.9h.01M300.9 243.9h.01M301 240.9h.01M302.1 268.2h.01M302.3 252.8h.01M303.1 256h.01M303.4 255.3h.01M303.6 257.1h.01M303.8 257.3h.01M304.9 259.3h.01M305.1 250.4h.01M305.1 268.4h.01M305.2 251.7h.01M305.9 270.5h.01M306.3 240.4h.01M306.5 249.5h.01M307.1 271.6h.01M307.1 259.7h.01M307.3 254.5h.01M307.3 265.5h.01M308.2 251.7h.01M308.9 264.4h.01M310.1 241.4h.01M310.7 260.9h.01M311 259.2h.01M311 271.9h.01M311.3 275.8h.01M311.6 257.7h.01M311.6 284.2h.01M311.7 260.6h.01M312.5 245.8h.01M312.6 242.4h.01M313.5 285.9h.01M313.6 268.4h.01M313.9 262.6h.01M314.1 261.8h.01M314.2 258.2h.01M314.5 285.2h.01M314.6 269.7h.01M314.8 290.4h.01M315.1 268.9h.01M315.1 245.4h.01M315.1 280.4h.01M315.2 267.2h.01M315.9 269.5h.01M316.5 290.1h.01M316.6 270h.01M316.7 285.9h.01M316.8 273.2h.01M317.2 265.3h.01M317.7 279.9h.01M318.2 268.2h.01M318.2 288.5h.01M319.9 287.7h.01M320.1 277.8h.01M320.7 284.6h.01M320.8 284.3h.01M321.2 275.2h.01M321.2 288.5h.01M321.4 276h.01M321.4 285.6h.01M321.5 267.9h.01M321.9 280.3h.01M322 284h.01M322 270.4h.01M322.3 275h.01M322.5 273.8h.01M323.7 289.6h.01M324.1 273.5h.01M324.3 287.1h.01M324.4 299.7h.01M324.5 286.3h.01M324.8 264h.01M324.8 284.1h.01M325.5 295.5h.01M326 280.6h.01M326.3 297.2h.01M326.3 291.6h.01M326.9 289.9h.01M327.7 282.9h.01M327.8 280h.01M328.2 283.4h.01M328.2 287.3h.01M328.3 292.8h.01M328.6 291.9h.01M328.8 283.6h.01M328.8 288h.01M329.2 292.2h.01M329.3 268.6h.01M330 279.5h.01M330.7 279.8h.01M331.2 287.4h.01M331.6 287h.01M332.1 287.8h.01M332.2 280.5h.01M332.7 299.7h.01M333 295.2h.01M333.3 272.4h.01M333.4 292.5h.01M333.7 279h.01M334 313.6h.01M334.6 288.1h.01M335.2 289.5h.01M335.6 295.7h.01M335.6 292.3h.01M335.8 294.2h.01M335.9 313.9h.01M335.9 297.8h.01M336.5 305.9h.01M336.9 310h.01M337.2 284.4h.01M337.3 317.4h.01M337.7 305.5h.01M337.8 308.8h.01M338.1 286.7h.01M338.2 307.6h.01M338.3 302.7h.01M339.1 291.7h.01M339.1 326.9h.01M339.2 305.6h.01M340 296.4h.01M340 301.8h.01M340.1 310.8h.01M340.5 314.1h.01M340.8 307.5h.01M340.8 315.5h.01M341 318.8h.01M341.1 285h.01M341.6 294.9h.01M342.6 290.2h.01M343.2 303.9h.01M344.2 322.1h.01M344.2 312h.01M344.3 290.4h.01M344.4 300.1h.01M344.8 317.4h.01M345.6 298.2h.01M345.7 303.9h.01M345.7 309.1h.01M345.7 281.8h.01M345.9 315.4h.01M346.2 310.1h.01M347.4 314.2h.01M347.7 294.4h.01M347.9 297.3h.01M348.1 299.8h.01M348.6 311.3h.01M348.9 309.2h.01M349 310h.01M349.9 332.8h.01M350.2 326.7h.01M351.1 301.1h.01M351.6 302.5h.01M351.7 334h.01M351.7 307.1h.01M352.1 330h.01M352.3 333.1h.01M352.4 304.8h.01M352.4 308.5h.01M352.6 313.4h.01M353.1 301.3h.01M353.3 300h.01M353.3 307.7h.01M354.2 325.4h.01M354.2 308.1h.01M354.3 311.4h.01M354.3 307.9h.01M355.2 296.7h.01M355.5 335.5h.01M355.8 284.2h.01M355.9 307h.01M356.4 323.9h.01M356.5 297.6h.01M356.6 324.9h.01M357.5 334.6h.01M357.5 305.9h.01M357.7 320.6h.01M358.1 303.1h.01M358.6 325.7h.01M358.7 320h.01M359 322.1h.01M359.5 338.4h.01M359.5 326.2h.01M359.9 338.6h.01M360.1 329.1h.01M361.1 304.8h.01M361.7 325.6h.01M361.8 328.9h.01M361.9 302.1h.01M361.9 340.7h.01M362.5 323.8h.01M362.9 328.4h.01M363.8 311.6h.01M364 325.3h.01M364.3 328.9h.01M364.4 320.1h.01M364.6 326h.01M365 295.5h.01M365.4 345h.01M366.1 310.7h.01M366.1 295.6h.01M366.3 313h.01M366.8 315.3h.01M366.9 334.9h.01M367.2 314.6h.01M367.5 331.9h.01M367.7 314.3h.01M367.8 359.6h.01M368.4 336.4h.01M369.8 358.1h.01M370.1 315.7h.01M370.2 340h.01M370.2 316.7h.01M371.4 340h.01M371.5 341.4h.01M371.6 308.7h.01M371.8 315.5h.01M371.9 315.2h.01M372.8 311h.01M373.1 322.5h.01M373.2 319.2h.01M373.5 312.5h.01M373.5 335h.01M373.7 341.7h.01M374.5 315.2h.01M375.1 326.9h.01M375.3 335.3h.01M375.6 332.1h.01M375.6 325.2h.01M376.3 348.1h.01M376.4 348.7h.01M376.4 346.3h.01M376.7 333.4h.01M377.4 366.5h.01M377.4 362.9h.01M377.8 331.5h.01M377.8 335.7h.01M377.9 355.2h.01M378.3 326h.01M378.5 344h.01M378.9 339.1h.01M379.3 328.3h.01M379.4 335.4h.01M379.7 315.6h.01M379.9 331.2h.01M380.5 309.8h.01M381.3 373.9h.01M381.7 362.6h.01M381.8 358.5h.01M382.1 344.9h.01M382.1 355.2h.01M382.3 359.3h.01M382.6 355.7h.01M383.6 354.7h.01M385 328.7h.01M385.6 348.4h.01M386.2 334.8h.01M386.5 325.7h.01M387.1 326.6h.01M387.2 349.1h.01M387.5 358.1h.01M387.6 323.7h.01M387.7 368h.01M387.8 364.1h.01M387.9 337.9h.01M389.1 337.3h.01M389.1 342.8h.01M389.4 357.8h.01M389.7 338.7h.01M389.7 328.6h.01M390.5 349.3h.01M391 316h.01M391.2 346.7h.01M391.3 360.9h.01M391.9 349.3h.01M393 356.2h.01M393.3 352.4h.01M393.5 355.7h.01M393.5 347.7h.01M393.6 334.5h.01M393.9 342.9h.01M394.3 345.1h.01M394.5 363.3h.01M394.9 368.3h.01M395.2 352.2h.01M396.8 337.1h.01M397.1 337.6h.01M397.2 344.8h.01M398.3 366h.01M399 352.4h.01M399 347.3h.01M399.1 338h.01M399.3 359.7h.01M399.3 351.9h.01M399.5 347.5h.01M399.6 349.6h.01M399.7 370.2h.01M399.8 346.2h.01M399.8 370.3h.01M399.9 364.5h.01M400.1 349.1h.01M400.3 360h.01M400.7 347.1h.01M400.7 338h.01M401.4 345.5h.01M401.6 337.3h.01M401.9 355.7h.01M402.1 349.4h.01M402.6 356.6h.01M402.7 359.9h.01M402.9 309.8h.01M403.1 353.5h.01M404.2 327.2h.01M404.2 352h.01M404.5 339h.01M404.9 351.5h.01M405 367.3h.01M405 328.9h.01M405.9 352.9h.01M406.2 349.6h.01M406.8 327.5h.01M407.4 359h.01M407.8 351.6h.01M407.8 344.9h.01M408 342.4h.01M408.7 390.4h.01M409 346.8h.01M409.2 329.8h.01M409.7 340.5h.01M410 347.4h.01M410.2 347.3h.01M410.5 351.1h.01M410.9 339.7h.01M411.2 358.6h.01M411.6 346.6h.01M411.9 336.3h.01M412 342.8h.01M412.9 348.2h.01M413.3 362.7h.01M414.4 358.7h.01M414.7 349.3h.01M414.7 353.4h.01M414.9 355.7h.01M414.9 376.7h.01M415 346.2h.01M415.2 358.7h.01M415.7 361.8h.01M416.1 342.7h.01M416.6 355.9h.01M416.9 355.7h.01M417 348.5h.01M417.4 360.3h.01M417.7 365.6h.01M418.1 366.8h.01M418.3 352h.01M419.1 356.5h.01M419.3 380.4h.01M419.5 342.3h.01M419.9 357h.01M419.9 364.3h.01M420.6 356.4h.01M420.6 362h.01M421.9 357.1h.01M422 363.5h.01M423.3 369.8h.01M423.7 353.3h.01M423.9 358h.01M424 355.2h.01M424.1 351.4h.01M424.6 355.8h.01M424.7 343.6h.01M425.1 364.4h.01M426.3 375.3h.01M426.4 375.3h.01M426.6 370.7h.01M427.3 346.2h.01M427.4 373.6h.01M427.9 349.1h.01M427.9 356.4h.01M428.5 377.5h.01M428.5 345.4h.01M428.6 366.4h.01M429.4 360.5h.01M429.6 355.8h.01M429.7 347.9h.01M429.7 362.2h.01M429.8 352.4h.01M430.9 369.3h.01M431.1 371.4h.01M431.2 342.7h.01M432.1 352.6h.01M432.4 354.7h.01M432.9 345.4h.01M433.3 346.2h.01M433.5 359.5h.01M433.7 356.3h.01M433.8 340.4h.01M433.8 352.7h.01M434.2 364.4h.01M434.5 345.5h.01M434.6 348.6h.01M434.9 376.3h.01M435 373.4h.01M435.9 341.3h.01M437.2 344.6h.01M437.9 363.7h.01M438 346.5h.01M438.8 357h.01M439.4 354.9h.01M440.1 366.2h.01M440.2 332.3h.01M440.5 335.9h.01M440.7 346.7h.01M440.7 371.3h.01M440.9 358.5h.01M440.9 341.4h.01M441.2 365.7h.01M441.5 368.1h.01M441.6 357.7h.01M441.9 356.8h.01M441.9 365.3h.01M442.8 373.9h.01M442.8 362.3h.01M442.8 366.5h.01M443 360.1h.01M443 356.5h.01M443.1 350.6h.01M444.3 363.7h.01M444.3 357.6h.01M444.4 358.3h.01M445.2 371.3h.01M446.1 366.7h.01M446.7 371h.01M446.8 344.1h.01M446.9 367.6h.01M447.1 355h.01M447.2 352.6h.01M447.5 352.2h.01M447.7 374.9h.01M448.4 370.8h.01M449.7 354.1h.01M450.1 349.5h.01M450.6 362.3h.01M451.1 357.1h.01M451.7 380.5h.01M451.7 346.2h.01M452.2 342.2h.01M452.3 359.6h.01M452.3 362.5h.01M452.8 363.9h.01M452.9 370.8h.01M452.9 385.3h.01M453.2 358.8h.01M453.4 356.6h.01M454.2 343.3h.01M454.2 365.4h.01M454.3 372.1h.01M454.4 359.9h.01M454.7 375.8h.01M454.8 363.1h.01M455.1 379.5h.01M455.3 366.5h.01M455.8 351.3h.01M456.1 356h.01M458.1 346.4h.01M458.2 344.2h.01M458.3 366.2h.01M458.9 373h.01M459 384.9h.01M459 362.8h.01M459.5 360.9h.01M459.7 351.3h.01M461.8 374.7h.01M461.9 368.1h.01M462.9 357.4h.01M464.1 371.7h.01M464.5 370.3h.01M464.9 343.6h.01M464.9 372.4h.01M465 365.7h.01M465.4 360h.01M465.7 359.7h.01M466 383.6h.01M466.3 381.3h.01M466.8 384.5h.01M467.1 351.8h.01M467.1 357.3h.01M468.5 374.6h.01M469.5 351.5h.01M470.4 356.9h.01M470.6 345h.01M471.1 385.3h.01M471.5 376.7h.01M471.8 370h.01M472.5 367.5h.01M472.8 360.5h.01M472.9 360.7h.01M473.4 372h.01M473.8 357.4h.01M474.3 378.8h.01M474.5 359.9h.01M474.6 355.7h.01M474.9 379.6h.01M476.8 363.9h.01M477 371.6h.01M477.1 361h.01M477.7 340.9h.01M478.2 371.7h.01M479.1 350.9h.01M479.3 377.7h.01M479.4 348.7h.01M479.4 345.3h.01M479.6 369.2h.01M480.2 370.5h.01M480.8 367.2h.01M481 352.7h.01M481.5 375.9h.01M481.8 350.1h.01M481.9 361.1h.01M482.1 357.6h.01M482.7 362.2h.01M482.7 375.7h.01M483 359.4h.01M484 372.8h.01M484.1 374.3h.01M484.2 347.8h.01M484.8 353.9h.01M485.1 362.6h.01M485.6 360.4h.01M485.7 370.3h.01M486 345.7h.01M486.8 375.1h.01M486.9 375.3h.01M487.4 365.4h.01M487.9 352.1h.01M488 367.4h.01M488.1 361.5h.01M488.2 373.6h.01M488.4 366.5h.01M488.9 375.5h.01M488.9 362.7h.01M489.1 383.4h.01M490.7 342.5h.01M491.4 356.8h.01M491.5 373.4h.01M491.6 351.4h.01M491.6 376.1h.01M491.7 354.6h.01M493.7 369.4h.01M493.8 358.3h.01M493.8 363.6h.01M494 370.4h.01M495.2 367.5h.01M495.5 364.5h.01M495.5 392.4h.01M495.6 368.8h.01M495.8 358.1h.01M495.9 379h.01M496.3 377.9h.01M497.1 382.5h.01M497.3 388.7h.01M497.5 358.7h.01M498 380.8h.01M498.2 381.7h.01M498.3 369.2h.01M498.4 371.9h.01M499.3 336.4h.01M501.3 363.4h.01M501.3 389.4h.01M501.5 350.1h.01M502.1 364h.01M502.2 373.1h.01M502.5 376.3h.01M503.6 388.1h.01M503.8 350.8h.01M504.3 370.8h.01M504.5 379.8h.01M504.7 355.9h.01M505.4 370.1h.01M506.9 391.5h.01M506.9 385.3h.01M507.2 376.8h.01M507.3 342.1h.01M507.7 369.5h.01M508.1 375.3h.01M509.3 367.9h.01M511.7 371h.01M512.1 405.7h.01M513.6 369.7h.01M513.6 361.4h.01M514.1 374.8h.01M514.1 368.7h.01M514.4 368.8h.01M515.6 371.5h.01M515.7 381h.01M516.2 375.2h.01M516.7 359.4h.01M516.7 371.2h.01M516.9 377.9h.01M516.9 367.5h.01M517.3 385.4h.01M517.5 381.4h.01M518 362h.01M518 376.4h.01M518.1 394.7h.01M518.4 390.1h.01M519.6 372.6h.01M519.8 383.1h.01M520.1 365.9h.01M520.6 357.5h.01M521.3 379.7h.01M521.6 376.3h.01M521.8 379.3h.01M522.1 373.5h.01M522.3 377.3h.01M522.4 368.1h.01M522.6 379h.01M522.7 383h.01M522.7 373.2h.01M522.9 382.8h.01M523 354.4h.01M523 365.2h.01M524.2 390h.01M524.4 393.6h.01M524.6 377h.01M525.4 373.3h.01M525.6 360.5h.01M525.8 378.5h.01M526.1 383.1h.01M527 358.4h.01M527.1 380.9h.01M527.2 380.2h.01M527.3 379.6h.01M527.3 362.4h.01M528.3 381h.01M528.3 358.5h.01M528.7 391.5h.01M530.1 376.9h.01M530.2 362.6h.01M530.6 390.3h.01M530.6 388.2h.01M531.2 368.5h.01M531.6 400h.01M531.7 364.7h.01M531.8 379.2h.01M531.9 388.8h.01M532.6 351h.01M533.1 387.1h.01M533.8 375.5h.01M534.1 376.1h.01M534.4 364.5h.01M534.6 380h.01M534.7 364.2h.01M535 365.8h.01M536 371.8h.01M536.2 363.3h.01M536.2 394.1h.01M536.5 362.2h.01M536.8 368.6h.01M537.7 373.6h.01M537.9 377.2h.01M538 385.9h.01M538.1 386.2h.01M538.9 374.1h.01M540.2 373.5h.01M540.2 378.1h.01M541 387h.01M541.6 385.8h.01M541.9 372.5h.01M542.8 355.8h.01M543 402.1h.01M543.2 389.1h.01M543.2 381.5h.01M543.5 382.4h.01M543.6 373h.01M543.7 367.7h.01M543.9 375.1h.01M544 376.4h.01M544.9 372.2h.01M545.6 363.3h.01M545.8 376h.01M547 386.1h.01M547.3 374.4h.01M547.9 380.3h.01M548 357.3h.01M548 377.8h.01M548.1 378.8h.01M548.5 366.7h.01M549.4 361.5h.01M549.7 385.1h.01M550 371.8h.01M550.2 386.2h.01M550.7 376.3h.01M551 387.9h.01M551.8 377.6h.01M551.8 364.7h.01M552.6 380.6h.01M552.8 378h.01M553 389h.01M553.4 376.9h.01M553.6 377.5h.01M553.8 391.5h.01M554.2 395h.01M554.4 390.6h.01M554.9 393.9h.01M555.3 387.5h.01M555.6 391.1h.01M556.6 392.7h.01M556.6 387.4h.01M556.8 383.7h.01M556.9 384.6h.01M557.2 409.9h.01M557.9 383.5h.01M559.2 381.2h.01M559.4 379.8h.01M559.7 383.6h.01M559.7 386.8h.01M560.7 371.7h.01M560.8 362.2h.01M561.2 387.8h.01M561.6 366.6h.01M562 387.8h.01M562.4 386.6h.01M562.5 398h.01M563.1 404h.01M564.1 389.8h.01M564.8 379.6h.01M565 372.7h.01M565.2 377.1h.01M565.5 386.6h.01M566 362.9h.01M566.6 387.4h.01M566.7 386.5h.01M567.3 394.1h.01M567.5 383.1h.01M567.7 388.2h.01M567.9 378.7h.01M569 382.2h.01M569.3 367.4h.01M569.5 389.1h.01M569.6 405.4h.01M570 389.7h.01M570.4 392.2h.01M570.6 377h.01M570.7 404.5h.01M571 379.5h.01M571.4 397.6h.01M571.6 389.7h.01M571.9 377.7h.01M572.1 400.5h.01M572.7 389.2h.01M573.9 391.5h.01M574 394.7h.01M574.1 389.3h.01M574.6 385.4h.01M575.6 395.6h.01M577.2 386.2h.01M577.3 391.7h.01M577.4 383.2h.01M578.4 374.2h.01M578.8 383.8h.01M579.2 386h.01M580.2 392.4h.01M580.3 406h.01M580.5 372.7h.01M580.7 393.9h.01M580.7 366.7h.01M581 380.4h.01M581.4 386.9h.01M582.2 366.9h.01M582.4 371.6h.01M582.5 395.1h.01M582.9 394.3h.01M583.8 392.5h.01M583.9 384.5h.01M584.1 419.2h.01M584.7 392.4h.01M584.7 384.2h.01M584.8 414h.01M585.1 401.7h.01M585.2 390.2h.01M585.3 408.6h.01M585.9 396.7h.01M586.4 402.7h.01M587.2 398.2h.01M587.7 383.6h.01M588.3 407.4h.01M588.7 398.1h.01M589.4 384.7h.01M590.5 388.1h.01M591.7 409h.01M592.1 393.6h.01M592.2 398.5h.01M592.8 406.1h.01M593.4 400.2h.01M593.8 380.7h.01M594.4 406.7h.01M594.6 410.4h.01M595.4 410h.01M595.6 419h.01M595.9 404.3h.01M596.1 409.3h.01M596.2 419h.01M596.4 396.8h.01M596.5 421h.01M596.9 421.2h.01M597.1 409.9h.01M597.7 422.9h.01M598.1 411.3h.01M598.1 390.6h.01M598.4 414.9h.01M599.9 406.1h.01M600.1 407.2h.01M600.4 404.3h.01M601.4 419.2h.01M601.7 409.7h.01M602 395h.01M602.5 409.4h.01M602.7 412.4h.01M602.7 395h.01M602.8 398.5h.01M602.9 399.2h.01M603.4 396.8h.01M603.7 408.4h.01M604.2 416.7h.01M605.2 427.8h.01M605.4 419.5h.01M605.6 417.6h.01M606 419.3h.01M606.9 422.1h.01M608.4 402.4h.01M609.2 415.7h.01M609.3 411.4h.01M610.2 406.5h.01M610.3 402.6h.01M611 402.4h.01M611 405.3h.01M611.3 393.8h.01M611.5 415h.01M613.3 409.7h.01M613.4 411.3h.01M614.1 414.5h.01M614.1 419.2h.01M614.5 403.6h.01M614.7 409.5h.01M614.7 391.5h.01M614.7 384.2h.01M615.3 387.9h.01M615.3 429.7h.01M615.4 389.3h.01M616.1 417.4h.01M616.1 429.5h.01M616.3 406.4h.01M616.9 431.8h.01M616.9 434.4h.01M617.4 424h.01M618 441.4h.01M618.9 421h.01M619 404.9h.01M620.1 420.7h.01M620.7 409.5h.01M620.9 399.3h.01M621.1 399.8h.01M621.5 443.1h.01M621.5 408.9h.01M622 415.4h.01M622.3 408h.01M622.4 417.7h.01M623.4 413.9h.01M623.5 411.9h.01M623.8 402.5h.01M624.4 400.6h.01M625 409h.01M625.2 421.6h.01M625.3 443.1h.01M625.4 430.9h.01M625.8 440.5h.01M626.1 424.6h.01M626.2 417.8h.01M627.5 403.9h.01M627.6 419.9h.01M627.6 394.2h.01M627.7 416.4h.01M627.8 439.6h.01M628.1 424.2h.01M628.1 433.8h.01M628.3 415.9h.01M628.9 404.4h.01M628.9 415.2h.01M629.6 416.7h.01M629.7 436h.01M630.1 445.5h.01M630.6 413.4h.01M631 418.3h.01M631.2 421h.01M631.2 418.5h.01M631.4 408h.01M631.8 424.3h.01M632.1 427.7h.01M632.3 428.2h.01M633 409.7h.01M633.3 423h.01M634 404.1h.01M634.2 436h.01M634.6 413.2h.01M635 422.4h.01M635.9 421.1h.01M636 419.6h.01M636.2 414h.01M636.7 405.9h.01M637.5 448.6h.01M638 431.3h.01M638 431.4h.01M638.3 453.6h.01M638.6 427.5h.01M639.3 436h.01M639.9 430.1h.01M640.1 444.2h.01M640.2 436.1h.01M640.3 433.9h.01M640.4 427.2h.01M640.6 433.7h.01M642 445.6h.01M642.2 406.9h.01M642.3 430.3h.01M642.6 427.1h.01M642.7 428.6h.01M643.1 408.9h.01M643.1 441.4h.01M643.7 423h.01M645.8 432.3h.01M645.8 429h.01M646.1 415.3h.01M646.4 430.2h.01M648.3 415.1h.01M649.3 426.9h.01M650.1 435.1h.01M650.2 439h.01M650.5 440h.01M650.7 437.8h.01M651.7 466.1h.01M651.8 445.7h.01M652.1 426.2h.01M652.2 433.5h.01M653 433.7h.01M653.3 439.8h.01M654.2 435.5h.01M654.3 432.6h.01M655.7 464h.01M655.8 444.8h.01M656.2 440.6h.01M656.3 441.7h.01M656.7 442.5h.01M656.8 461.9h.01M657.4 451.5h.01M657.5 459.4h.01M657.6 408.6h.01M658.3 450.6h.01M658.6 459.7h.01M659.5 471.5h.01M660.1 448.8h.01M660.8 428.5h.01M661.7 457.1h.01M662.2 443.3h.01M662.7 429.6h.01M663.7 444.7h.01M663.9 465h.01M664.1 466.9h.01M664.3 461.4h.01M664.9 440.8h.01M665.6 484.3h.01M666.5 441h.01M666.8 454.5h.01M668.2 439.5h.01M668.8 473.3h.01M669.2 463.3h.01M669.7 469.2h.01M669.8 459.7h.01M670.6 458.6h.01M671.8 462.9h.01M671.9 438.3h.01M672.4 473.4h.01M672.7 472.7h.01M672.9 457.4h.01M674 463.1h.01M675.8 468.9h.01M676.8 485.3h.01M677.2 472.2h.01M678.6 469.1h.01M678.7 462.6h.01M678.7 450.7h.01M679.3 462.2h.01M679.5 470.5h.01M679.7 466.9h.01M679.7 470.8h.01M680.1 479.3h.01M680.1 475.6h.01M680.7 474.4h.01M680.7 479h.01M680.8 473.5h.01M680.9 470.9h.01M681.5 477.6h.01M681.7 451.6h.01M682.3 488h.01M682.4 457.7h.01M683 483.9h.01M683 474.1h.01M683.7 488.1h.01M683.9 475.5h.01M684.8 464.7h.01M685.1 489.3h.01M685.2 478.8h.01M685.3 478.1h.01M686.4 479h.01M689.1 493.4h.01M689.4 491.7h.01M689.4 484.6h.01M689.8 463.7h.01M690.5 478.4h.01M691.4 485.7h.01M691.7 506.3h.01M692.2 490.1h.01M692.6 484.8h.01M692.7 500.4h.01M693.6 485.9h.01M694 487.4h.01M694.5 490.3h.01M694.7 470.7h.01M695.1 500.7h.01M695.4 494.7h.01M695.7 486.6h.01M696.6 477.5h.01M697.2 494.5h.01M697.7 509.4h.01M698 485.4h.01M698.6 481.1h.01M699.1 499.6h.01M699.2 475.5h.01M700.5 469.7h.01M700.7 491.2h.01M701.8 489.7h.01M701.9 494.8h.01M702.1 491.8h.01M702.7 503.1h.01M703.9 498.1h.01M704.3 494.1h.01M704.7 496.3h.01M704.8 509.6h.01M705.4 514.4h.01M705.9 514.3h.01M706.3 512.4h.01M706.8 464.8h.01M707.4 493.3h.01M707.4 501.6h.01M707.8 508.4h.01M708.1 486.8h.01M708.2 523.6h.01M708.7 510.8h.01M709 500h.01M709 509.5h.01M709.4 503.9h.01M709.4 498.9h.01M710.2 515.3h.01M710.8 504.4h.01M711.2 493.3h.01M711.8 503.6h.01M712.2 510.5h.01M712.3 498.9h.01M712.6 527.6h.01M712.8 499.5h.01M712.9 534.1h.01M714.2 525.4h.01M714.2 503.2h.01M715.7 518.2h.01M715.9 531.3h.01M716 514.7h.01M716.2 502.7h.01M716.6 519.2h.01M717 542.7h.01M717.2 500.5h.01M717.8 526.3h.01M718.2 520.1h.01M718.8 519.5h.01M719.5 517.1h.01M719.8 518.3h.01M719.8 534.9h.01M720 529.8h.01M720.3 510.8h.01M720.6 542.4h.01M720.8 507.8h.01M720.9 531.9h.01M721.2 526.4h.01M721.2 538.8h.01M721.4 528.9h.01M721.7 537.8h.01M721.9 524.9h.01M722.4 537.7h.01M723.3 531.3h.01M723.7 554h.01M724.2 519.8h.01M724.2 543h.01M724.5 534.4h.01M724.7 531.2h.01M724.8 522.3h.01M725.6 535.7h.01M725.6 512.3h.01M725.8 513.8h.01M726.4 540.1h.01M727.1 513.3h.01M727.5 550.5h.01M727.7 529.8h.01M728.1 536.8h.01M728.6 535.3h.01M728.9 540.1h.01M729.2 531.9h.01M729.5 531.1h.01M730 534.8h.01M730.9 550.5h.01M731.4 552.3h.01M731.6 554.2h.01M731.8 543.4h.01M732 536.6h.01M732.1 518.6h.01M732.3 547.5h.01M732.6 550.3h.01M732.8 535.2h.01M732.9 550.3h.01M733 556.3h.01M733.9 542.9h.01M734 554.9h.01M734.2 546h.01M734.3 520.9h.01M734.5 536.7h.01M734.5 537.5h.01M734.6 549.2h.01M734.7 532.2h.01M735.3 538.2h.01M735.9 532.6h.01M736 544.1h.01M736 545.4h.01M737.2 558.3h.01M737.5 556.5h.01M738.1 549.5h.01M738.6 551.1h.01M738.8 549.7h.01M739.4 550.5h.01M740 569.1h.01M740.8 520.2h.01M741.7 550.1h.01M741.9 556.4h.01M741.9 566.6h.01M742.4 539.5h.01M742.4 557.5h.01M742.5 564h.01M743.7 549.4h.01M743.9 531.4h.01M744.1 550.9h.01M744.7 541.3h.01M744.9 564.5h.01M745.1 546.2h.01M745.3 579.1h.01M745.4 558.8h.01M746.2 548.1h.01M746.2 551.8h.01M746.4 544.8h.01M747.4 564.5h.01M748 579.1h.01M748.2 558.1h.01M748.5 572.7h.01M748.9 549.8h.01M749.6 566.4h.01M749.8 591.6h.01M750.4 545.9h.01M750.8 579.3h.01M750.9 578.7h.01M752.2 542h.01M752.5 547.8h.01M752.9 554h.01M754.2 579.9h.01M754.3 562.4h.01M754.5 565.9h.01M755.1 577.6h.01M755.3 570.4h.01M755.5 571.9h.01M755.9 565.6h.01M756 583.8h.01M756.1 560.1h.01M756.2 590.9h.01M756.4 565.8h.01M756.6 560.3h.01M756.8 578.7h.01M756.9 576.3h.01M757.3 546.2h.01M757.5 574.1h.01M757.6 554.4h.01M757.7 561h.01M758.6 582.3h.01M758.7 561.6h.01M759.1 577.4h.01M759.1 568.2h.01M759.3 597.5h.01M759.9 572.6h.01M760.4 559.4h.01M760.4 560.4h.01M760.5 562.9h.01M760.5 576h.01M760.9 574.7h.01M761.1 587.2h.01M761.5 577.5h.01M761.7 577.2h.01M761.8 579.8h.01M762.1 574.3h.01M762.4 579.9h.01M762.4 586.1h.01M762.6 586.3h.01M762.9 569.9h.01M763.5 554.9h.01M764.8 568.3h.01M765.9 583.2h.01M766.3 548.5h.01M766.5 574.2h.01M766.5 585.9h.01M766.6 573.2h.01M767.6 567h.01M767.8 603.7h.01M768.1 599.3h.01M768.3 578.6h.01M768.6 598.9h.01M768.7 598.7h.01M768.8 567.9h.01M769.2 616.6h.01M769.5 571h.01M770.3 580.3h.01M771 570.3h.01M771 585.2h.01M771.1 567.6h.01M771.9 584.9h.01M772 598.8h.01M772.3 588h.01M772.6 582.2h.01M772.9 605.5h.01M773.6 575h.01M774.1 599.1h.01M775.5 584.1h.01M775.7 590.8h.01M776.3 588.9h.01M776.6 590.4h.01M777 588.4h.01M777.1 579.2h.01M777.2 582h.01M777.4 595h.01M777.5 588.1h.01M777.6 574.7h.01M777.8 580.6h.01M777.9 580.8h.01M778.6 589.5h.01M778.6 592.5h.01M778.8 591.5h.01M779.7 582.6h.01M779.9 591.4h.01M780.1 573.8h.01M780.2 554.4h.01M780.2 590.6h.01M780.3 570.2h.01M780.4 579.3h.01M781.1 576.5h.01M781.5 600.2h.01M781.7 576.8h.01M781.8 595.9h.01M782.1 586.3h.01M782.3 576.8h.01M782.5 572.6h.01M782.7 598.9h.01M783.3 598.2h.01M783.5 603.4h.01M784.1 617.3h.01M784.4 597.5h.01M784.7 597.7h.01M786.6 593.7h.01M787 596.9h.01M787.4 591.2h.01M787.4 584.3h.01M788.5 622.1h.01M788.8 572.5h.01M789.7 600.3h.01M790.2 603h.01M790.7 599.5h.01M791 585.2h.01M791.7 595.5h.01M791.9 592.1h.01M792.3 584.4h.01M792.7 597.9h.01M793 593.3h.01M794 591.9h.01M794 607.9h.01M794.3 585.4h.01M794.3 604.8h.01M794.4 591.3h.01M795.1 605h.01M795.4 600.5h.01M796.6 603.2h.01M796.9 587.5h.01M797.1 590.2h.01M798.5 589.7h.01M799.8 603.6h.01M800.6 611.4h.01M800.6 615.7h.01M800.7 595.2h.01M801.2 603.1h.01M801.2 581h.01M801.3 573.2h.01M802.4 591.3h.01M802.5 593.9h.01M802.7 582.5h.01M802.7 579.6h.01M802.9 609.7h.01M803 592.4h.01M803.4 581.2h.01M803.6 633.2h.01M803.8 605.4h.01M804.2 599.2h.01M804.3 612.1h.01M804.5 593.6h.01M804.7 624.1h.01M804.9 583.6h.01M804.9 586.7h.01M805 601.8h.01M806.3 594.3h.01M806.8 622.7h.01M806.8 583.6h.01M807 595h.01M807.4 607.7h.01M807.7 612h.01M808 617.8h.01M808.1 609.3h.01M808.2 633.5h.01M808.3 598.8h.01M809.1 607.5h.01M810.3 616.8h.01M811.5 602h.01M811.8 602.4h.01M812.4 600.4h.01M812.8 598.2h.01M813.9 592.2h.01M814.8 599.9h.01M815 587.1h.01M815.7 612.3h.01M816.1 586.8h.01M817 634.5h.01M818.2 630h.01M818.3 622.4h.01M818.4 605.3h.01M818.7 600.5h.01M819.3 624.1h.01M819.4 610.6h.01M819.5 615.6h.01M819.6 599h.01M819.9 622.2h.01M821.4 598.4h.01M821.4 610.1h.01M821.9 586.4h.01M822.2 600.4h.01M822.3 615.4h.01M822.6 603.1h.01M823.8 603.4h.01M824.3 619.5h.01M824.6 608.4h.01M824.6 625.4h.01M824.7 578h.01M826.1 616.9h.01M826.4 616.2h.01M826.6 589.7h.01M826.9 592.9h.01M827.1 621.1h.01M827.5 596h.01M828.9 601.8h.01M828.9 617.8h.01M828.9 605.7h.01M829 616.2h.01M829.4 598.8h.01M830.6 614.1h.01M831 624.3h.01M831 614.5h.01M831.5 582h.01M831.8 618.8h.01M831.8 611.2h.01M832.3 598.7h.01M833.6 628.6h.01M833.7 588h.01M834 634.9h.01M834.6 602.5h.01M835.6 631.2h.01M835.6 610.2h.01M835.9 593.6h.01M836.4 612.1h.01M836.8 615.2h.01M837.5 618h.01M837.9 624.7h.01M838 599.4h.01M838.5 617.4h.01M838.9 620.6h.01M839.2 607.6h.01M839.9 599h.01M840.1 598.8h.01M840.2 620.9h.01" stroke="#35b779" stroke-width="7.0" stroke-linecap="round" fill="none"/>
<path d="M151.4 62.9h.01M152.6 58.4h.01M152.7 66.2h.01M153.1 64.2h.01M153.2 67.2h.01M153.3 68h.01M153.4 69.8h.01M153.6 67.4h.01M154.1 68.6h.01M154.6 65.4h.01M155.4 70.2h.01M155.4 63.6h.01M155.8 67.2h.01M155.9 71.8h.01M156 68.4h.01M156.2 71h.01M156.6 64.8h.01M156.7 76.1h.01M156.8 67.5h.01M157.8 73.5h.01M158.5 72.9h.01M159 77.9h.01M159 72h.01M159.9 70.7h.01M159.9 66.7h.01M160.1 74.3h.01M160.2 70.5h.01M160.7 79h.01M161 83.7h.01M161 67.2h.01M161.6 72.4h.01M162.8 81.6h.01M163 86.1h.01M163.5 82.8h.01M164.1 83.9h.01M164.3 85h.01M164.6 85.9h.01M164.7 90.8h.01M165.5 87.6h.01M167.3 82.2h.01M167.9 86.7h.01M167.9 89.8h.01M168.4 86h.01M168.5 88.7h.01M168.7 87.8h.01M168.8 87.2h.01M169.2 94.1h.01M169.2 89.3h.01M169.5 86.6h.01M169.6 88.3h.01M169.7 92h.01M170.2 102.1h.01M171.1 95.1h.01M171.2 100.8h.01M171.4 96.7h.01M171.8 85.4h.01M171.9 96.9h.01M172 91.5h.01M172 89.2h.01M172.2 90.8h.01M172.5 104.2h.01M172.7 89.3h.01M173.4 94.7h.01M173.5 102.8h.01M174.1 101.5h.01M174.3 91h.01M174.5 98.7h.01M175.2 97.9h.01M175.4 99.6h.01M176.4 105.3h.01M176.7 99.8h.01M176.8 101.1h.01M177 109.5h.01M177.1 94.6h.01M177.2 101.5h.01M177.4 105.6h.01M177.6 98.1h.01M178.4 102.1h.01M178.8 99.6h.01M179 106.5h.01M179 103h.01M179.1 109.5h.01M179.6 111.4h.01M179.6 107h.01M180.2 105.9h.01M180.8 109.7h.01M180.9 108.9h.01M181.3 103.8h.01M181.7 114.7h.01M181.7 110.9h.01M182.1 114.1h.01M183.2 105.8h.01M183.3 116.2h.01M183.4 121.9h.01M184.2 116.3h.01M185.1 108.4h.01M186 116.3h.01M186.3 116.4h.01M186.3 117.7h.01M186.4 115.7h.01M186.5 119.2h.01M186.9 115.4h.01M187.6 119.5h.01M187.8 115.7h.01M188.1 119.7h.01M188.3 124.1h.01M188.5 117.6h.01M188.9 123.5h.01M189 116.6h.01M189.4 119.5h.01M189.8 120.6h.01M189.8 127.4h.01M189.8 118.3h.01M189.8 127.3h.01M190.2 115.7h.01M190.7 122.3h.01M191.8 128.8h.01M192.3 128.6h.01M192.5 121h.01M192.8 120.5h.01M192.9 130.2h.01M193.3 121.1h.01M194.8 131.6h.01M196.5 129.1h.01M196.6 131.6h.01M196.7 142.1h.01M197.2 139.5h.01M197.8 137.1h.01M197.8 127h.01M197.8 134.8h.01M198 133.8h.01M198 133.1h.01M198.2 140h.01M198.3 126.1h.01M198.4 135.5h.01M198.9 135.3h.01M199.2 131.8h.01M199.7 143.8h.01M199.8 130.4h.01M199.9 136.3h.01M200.1 136.9h.01M200.3 126.9h.01M200.5 130.6h.01M200.5 132.7h.01M201.2 141.7h.01M201.6 142.9h.01M202 141.9h.01M202.9 141.6h.01M203.8 131.7h.01M204 143h.01M204.2 140h.01M204.5 148.1h.01M204.5 148.9h.01M204.6 153.1h.01M204.7 146.2h.01M205.2 147.4h.01M205.4 139.4h.01M205.5 144.5h.01M205.6 138.6h.01M205.9 148.8h.01M206 139.4h.01M206.2 144.2h.01M206.5 141.8h.01M207.5 144.8h.01M208.2 150h.01M208.3 145.5h.01M208.6 149.4h.01M209.3 144.8h.01M209.3 155.8h.01M209.5 146.8h.01M209.8 154.8h.01M209.9 160h.01M210 139.3h.01M210.2 146.2h.01M211.9 152.1h.01M211.9 158.4h.01M212.4 151.5h.01M213.2 156.6h.01M213.3 151.6h.01M213.5 157.8h.01M214.1 150.5h.01M214.2 160h.01M214.8 143.3h.01M215.1 148.8h.01M215.3 166h.01M215.5 158.8h.01M216.9 155.7h.01M216.9 170h.01M217 164.9h.01M217.2 165.5h.01M217.8 159.2h.01M218 164.2h.01M218 163.7h.01M218.5 154.5h.01M219.3 165.8h.01M219.5 162.6h.01M219.6 169.5h.01M219.9 170h.01M220 161.2h.01M220.1 161.4h.01M222 167.6h.01M222.5 170.4h.01M222.9 166.1h.01M223.1 167.8h.01M223.1 171.1h.01M223.2 170.3h.01M223.2 173.8h.01M224.6 171.3h.01M224.6 166.2h.01M224.6 162.2h.01M225.7 175.5h.01M226.5 171.2h.01M226.6 171.4h.01M226.8 171.9h.01M227.5 166.8h.01M228 173h.01M228.5 163.4h.01M229.1 174.4h.01M229.1 172.2h.01M229.2 184.8h.01M229.3 178.6h.01M230 176.5h.01M231.6 180.3h.01M233.1 184.9h.01M233.5 178.6h.01M233.6 181h.01M233.7 180.7h.01M234 194.2h.01M234.3 183.4h.01M234.8 174.7h.01M234.9 187.5h.01M235 195.9h.01M235.2 179.8h.01M235.8 201.1h.01M235.9 184.8h.01M236.1 190h.01M236.6 183.5h.01M236.9 185.2h.01M238 182.2h.01M238.6 183.7h.01M238.7 178.9h.01M238.8 194.2h.01M238.9 183.7h.01M239.3 191.2h.01M239.4 191.2h.01M240.6 188.2h.01M240.8 191.7h.01M241.2 191.5h.01M241.5 190h.01M242 193.2h.01M242.5 193.9h.01M244 190.8h.01M245 190.7h.01M245.1 193h.01M246 198.6h.01M246.3 204.8h.01M246.4 205.3h.01M246.5 200.1h.01M246.7 203.3h.01M246.8 199.6h.01M246.9 204.3h.01M247.8 200.8h.01M248 202.4h.01M248.6 199.9h.01M249 201.8h.01M249.5 211.3h.01M250.7 198.3h.01M250.8 204h.01M250.9 201.4h.01M251.1 208.9h.01M251.4 213.3h.01M251.7 203.7h.01M252 192.6h.01M252.4 208.8h.01M252.4 208.9h.01M252.7 198.5h.01M252.8 205.4h.01M253.2 206.6h.01M253.4 196.5h.01M253.7 210.7h.01M254.8 211h.01M255.5 210.9h.01M255.7 205.1h.01M256.1 207.3h.01M256.8 208.4h.01M256.8 213.7h.01M256.9 206.9h.01M257.1 218.7h.01M257.7 214.3h.01M257.8 202.4h.01M257.9 220.6h.01M257.9 213.6h.01M258.1 210.4h.01M258.8 214.3h.01M258.9 205.5h.01M258.9 214.9h.01M259.1 202.7h.01M259.1 209.5h.01M259.2 220.7h.01M260 221.1h.01M260.2 213.9h.01M260.3 211.2h.01M260.9 220.6h.01M261.3 216.6h.01M261.5 217.9h.01M261.7 220.2h.01M262.6 213.1h.01M262.8 222.2h.01M263.4 209.2h.01M263.7 226.3h.01M264.6 213.1h.01M264.9 217.9h.01M265.2 218h.01M265.6 225h.01M265.9 225.4h.01M266.3 224h.01M266.8 225.4h.01M267 225.3h.01M267.1 222.9h.01M267.2 214.4h.01M267.3 212.6h.01M267.4 212.8h.01M267.6 223.6h.01M268.8 224.1h.01M269.1 224.8h.01M269.4 226.8h.01M270.4 225.8h.01M270.5 222.3h.01M270.6 220.1h.01M270.9 218.5h.01M271.1 233.3h.01M271.5 232.3h.01M271.8 222h.01M272.5 227.8h.01M272.6 231.3h.01M272.6 236.7h.01M273.2 227h.01M273.4 230.9h.01M273.6 235.8h.01M273.7 222.3h.01M274.6 228h.01M274.7 231.3h.01M274.8 228.2h.01M275 241.8h.01M275.1 236.1h.01M275.2 233h.01M275.5 227.8h.01M275.9 236.8h.01M275.9 235.8h.01M276 230.5h.01M276.3 231.2h.01M277 227.1h.01M278.7 235.5h.01M278.8 240h.01M278.9 240.7h.01M279.1 239h.01M279.5 240.6h.01M280 234.4h.01M280.1 235.1h.01M280.9 243.8h.01M280.9 240.3h.01M281 234.5h.01M281.1 240.7h.01M281.4 242.6h.01M281.4 242.1h.01M281.6 239.4h.01M281.7 236.6h.01M282.1 241.3h.01M282.3 247.6h.01M282.4 240.4h.01M282.4 236.6h.01M282.5 241.5h.01M282.6 234.1h.01M283.9 242.4h.01M284.2 240.2h.01M284.4 246.3h.01M285.3 243.3h.01M285.6 248h.01M285.7 254h.01M285.8 242.3h.01M288.1 241.8h.01M288.9 248.6h.01M289 246.2h.01M289.8 248.1h.01M291 245.9h.01M291.1 251.4h.01M291.3 249.3h.01M291.3 238.9h.01M292.5 249.1h.01M293 252.2h.01M293.6 256.8h.01M294 249h.01M294.6 248.6h.01M295.2 258.3h.01M295.4 250.4h.01M296.8 255.1h.01M297.3 257.3h.01M297.5 258.8h.01M297.8 255.6h.01M298.3 250.9h.01M299 261.5h.01M299.1 254.8h.01M299.5 254.9h.01M299.8 267h.01M300.6 262.6h.01M300.7 253.5h.01M300.8 256.4h.01M302.3 259h.01M302.3 256.7h.01M302.9 251.8h.01M303 264.7h.01M303.9 265.5h.01M304.1 263.3h.01M305.2 261.4h.01M306.1 265.2h.01M306.1 267.2h.01M306.6 259.9h.01M307.2 263.8h.01M307.8 263.4h.01M307.9 269.4h.01M308.4 267.9h.01M308.4 260.6h.01M308.7 264.1h.01M308.8 275.3h.01M308.8 262.5h.01M309.6 268.6h.01M309.6 265h.01M309.9 274.1h.01M310 268h.01M310.1 266.3h.01M310.1 262.9h.01M310.2 267.4h.01M310.6 272.7h.01M310.9 272.4h.01M311 263.1h.01M311 276.7h.01M311.1 268.2h.01M312 265.5h.01M312.4 271.4h.01M312.6 268.1h.01M312.8 268.4h.01M313.1 268.5h.01M313.3 271.3h.01M313.7 269.7h.01M314.3 264.7h.01M314.4 275.2h.01M315.2 271.2h.01M315.4 279.4h.01M315.8 276.8h.01M315.9 277.3h.01M316 275.3h.01M316.1 280.6h.01M316.2 273.1h.01M316.7 270.5h.01M317.1 277.2h.01M317.3 263h.01M317.5 274.2h.01M317.9 277.4h.01M318 274.5h.01M318.4 282.8h.01M318.7 280.5h.01M319.2 278.2h.01M319.3 275.9h.01M319.8 283.4h.01M320.6 275.9h.01M320.7 277.3h.01M321.2 283.1h.01M321.4 282.6h.01M321.5 289.5h.01M321.8 279.3h.01M321.9 271.6h.01M321.9 283.5h.01M322.2 286.6h.01M322.8 280.4h.01M323.4 289.2h.01M323.5 290.3h.01M323.5 278.8h.01M323.7 279.9h.01M324 276.6h.01M324.2 285.2h.01M324.3 286.1h.01M324.4 285.7h.01M324.8 277.4h.01M326.3 281.1h.01M326.5 278.2h.01M327 277.9h.01M327.1 279.2h.01M327.2 278.2h.01M327.7 285.2h.01M328.5 288.8h.01M328.6 289.9h.01M329.1 287.4h.01M329.5 284.7h.01M330.5 288.7h.01M331.3 292.2h.01M331.3 288.2h.01M331.4 290h.01M331.8 288.6h.01M332.1 287.9h.01M332.3 290.7h.01M332.7 285.7h.01M333.4 296.5h.01M333.4 284.3h.01M333.4 293.8h.01M333.5 285.3h.01M333.8 299.1h.01M333.9 296.2h.01M335.1 289.4h.01M335.5 291.5h.01M335.7 288.5h.01M335.9 293.7h.01M336 296h.01M336.4 306.5h.01M336.4 288.1h.01M336.9 300.8h.01M337.2 292.5h.01M337.5 296.8h.01M337.6 299.7h.01M337.7 298.3h.01M337.7 297.7h.01M338 295.1h.01M338.2 296.1h.01M338.2 296.9h.01M338.5 302.1h.01M338.6 289.7h.01M339.5 295.1h.01M339.9 292h.01M340 293.3h.01M340.1 294.2h.01M340.6 303.7h.01M341 308.9h.01M342.2 306.3h.01M342.5 294.6h.01M342.5 300.6h.01M342.6 295h.01M342.9 302.7h.01M343.5 307.1h.01M343.5 304h.01M343.6 305.4h.01M343.6 300.6h.01M344.2 292.6h.01M346 294.2h.01M346.9 303.9h.01M347 307.2h.01M347.2 310.6h.01M347.2 303h.01M347.5 305.3h.01M347.8 306.4h.01M347.8 310.2h.01M347.8 304.9h.01M347.9 300.1h.01M349.1 311.5h.01M349.7 308.9h.01M350.5 309.5h.01M350.5 301.7h.01M351.3 308.4h.01M351.6 300.6h.01M351.9 299.5h.01M352 307.9h.01M352.1 307.1h.01M352.2 311.9h.01M352.5 316.3h.01M352.6 309.4h.01M352.8 318.2h.01M352.9 307.1h.01M353.6 314.1h.01M354.4 305.2h.01M355.2 312.5h.01M356.4 311.6h.01M356.7 312.3h.01M356.8 316.1h.01M357.3 304.9h.01M357.4 314.5h.01M357.9 310.5h.01M358 315h.01M358.2 316.5h.01M359 313.6h.01M359.2 313.8h.01M359.3 310.2h.01M360 318.8h.01M360.2 313.2h.01M360.3 318.6h.01M360.3 309.8h.01M360.8 323.5h.01M361 312.3h.01M361 322.6h.01M361.8 315.8h.01M362.1 320.7h.01M362.2 317.5h.01M362.7 321.8h.01M362.7 318.7h.01M362.8 324.8h.01M363.1 322.2h.01M364.7 323.6h.01M365.5 329h.01M365.9 318.2h.01M366.2 327.9h.01M366.8 322.6h.01M366.8 315.3h.01M366.9 324.6h.01M366.9 321.4h.01M367.4 330.7h.01M367.7 320.7h.01M369.1 324.5h.01M369.5 325.7h.01M370.7 316.7h.01M370.8 328.1h.01M370.8 321.1h.01M371 332.6h.01M371.1 333.9h.01M371.3 326.2h.01M371.7 319h.01M371.7 327.4h.01M372.1 327.7h.01M372.5 330.6h.01M373.3 326.5h.01M373.4 322.3h.01M373.4 327.3h.01M374.9 324.9h.01M375.2 338h.01M375.2 326.2h.01M375.5 326.7h.01M376.1 330.1h.01M376.8 325h.01M376.8 328.8h.01M377.1 330.6h.01M377.4 329.1h.01M377.5 330.4h.01M377.6 337.5h.01M379.1 334.9h.01M379.2 326.6h.01M379.3 331h.01M379.4 336.7h.01M380 330.6h.01M380.1 334.1h.01M380.3 333.8h.01M380.4 336.5h.01M380.5 333.3h.01M380.5 333.5h.01M380.6 330.1h.01M380.6 335.9h.01M381.9 330.9h.01M382.5 344h.01M382.5 335.7h.01M382.5 334.7h.01M382.6 339.6h.01M382.7 335.5h.01M382.9 336.5h.01M382.9 335.9h.01M383.1 332.9h.01M383.5 332.2h.01M384.5 334.1h.01M384.7 343h.01M385.3 335.1h.01M385.5 336.4h.01M385.7 336.3h.01M386.7 342.7h.01M386.7 348.8h.01M386.9 335.1h.01M387.2 342.3h.01M387.9 340.9h.01M388.8 339.6h.01M389 343.6h.01M390.2 336.2h.01M390.6 346.6h.01M391.2 344.1h.01M391.6 338.7h.01M391.9 351.3h.01M391.9 347.8h.01M392.9 350h.01M393.1 337.7h.01M393.2 343.5h.01M393.3 342.4h.01M393.3 347.8h.01M394.1 352h.01M395 337.2h.01M396.1 347.3h.01M396.6 347h.01M396.8 352.5h.01M398 348.5h.01M398.2 342.9h.01M398.3 348h.01M398.4 344.1h.01M398.7 345.6h.01M398.7 349.5h.01M398.7 347h.01M399 350.9h.01M400.8 343.7h.01M401 362.2h.01M401.7 357.7h.01M402.2 355.5h.01M402.3 345.9h.01M402.6 342h.01M402.8 348.4h.01M403 351.5h.01M403.7 363.9h.01M403.9 359.6h.01M403.9 350.8h.01M404.3 359.4h.01M404.7 359.8h.01M405.3 354.5h.01M405.6 360.5h.01M406.3 356.8h.01M406.5 352.2h.01M407 350.1h.01M407.1 355.2h.01M407.6 360.9h.01M408 349.9h.01M408 348.7h.01M408.3 359.3h.01M408.7 344h.01M410 366.7h.01M410 355.9h.01M410.7 362h.01M410.7 367.4h.01M411.5 352.2h.01M411.8 354.3h.01M412.2 370.4h.01M412.3 358.4h.01M412.7 359.4h.01M412.7 361.1h.01M412.7 365.1h.01M412.9 366.5h.01M412.9 360.7h.01M413.1 358.7h.01M414.2 361h.01M414.3 362.7h.01M415.8 368.6h.01M415.9 363.1h.01M416.3 371.5h.01M416.5 358.8h.01M416.5 365.5h.01M416.7 371.5h.01M417.6 369.9h.01M417.7 365.4h.01M417.9 359.7h.01M418 360.6h.01M418.6 363.7h.01M419.5 366.7h.01M419.5 364h.01M420.8 359.1h.01M422.3 363.7h.01M422.5 369.9h.01M422.8 371.7h.01M423.1 361.1h.01M423.3 366.3h.01M423.7 360.3h.01M423.7 365.7h.01M423.8 385.5h.01M424.9 369.5h.01M424.9 367.6h.01M425 366.5h.01M426.3 364.5h.01M426.4 361.5h.01M427 370.6h.01M427.3 369.7h.01M427.3 378.2h.01M427.7 363.5h.01M427.8 373.6h.01M429.2 379h.01M429.5 363.3h.01M429.5 375.9h.01M429.6 365h.01M429.8 375.5h.01M429.9 380.2h.01M430.5 373.5h.01M430.8 375.1h.01M431.5 370.9h.01M431.5 375.7h.01M431.7 379.9h.01M431.9 373.7h.01M432.1 374h.01M432.2 376.7h.01M432.3 378.9h.01M432.8 367.4h.01M432.9 375.6h.01M433.5 372.5h.01M433.9 378.5h.01M434.3 381.4h.01M434.7 378.2h.01M434.9 383.1h.01M435.8 372.8h.01M436 375.8h.01M436.4 373.2h.01M436.4 378.3h.01M437 378.9h.01M437 377.5h.01M437.8 373.3h.01M437.9 378.8h.01M438.2 377.3h.01M439.1 383h.01M440.3 379.7h.01M441.2 387.4h.01M441.5 383.1h.01M441.6 373.1h.01M441.8 381.4h.01M442.8 376.1h.01M442.9 387.7h.01M443 390h.01M443.5 383.4h.01M444 386h.01M444.3 377.1h.01M445.5 374.2h.01M446.3 383h.01M446.3 384.5h.01M446.3 378.4h.01M447.1 386.8h.01M448.1 388.7h.01M448.5 390.6h.01M450.4 396.5h.01M450.5 392.9h.01M451.2 387.9h.01M451.5 390.4h.01M451.6 392.9h.01M451.7 385h.01M451.8 396.6h.01M452 394.7h.01M452.3 389.4h.01M452.3 387.5h.01M452.6 409.4h.01M452.8 395.1h.01M452.8 395.6h.01M452.9 399.8h.01M453 396h.01M453 392.2h.01M453.4 395h.01M454.3 387.8h.01M454.3 395.8h.01M454.7 385.1h.01M454.7 394.7h.01M455.6 396.2h.01M455.7 386h.01M456 403.1h.01M456 388.2h.01M456.1 398.9h.01M456.2 391.4h.01M456.6 395.8h.01M456.8 391.3h.01M456.8 406.7h.01M456.9 399.6h.01M457.4 403.8h.01M457.5 399h.01M458.8 399.6h.01M458.8 397h.01M459.1 395.4h.01M459.6 399.9h.01M460.6 398.6h.01M460.7 397.2h.01M460.7 391.2h.01M461.6 397.2h.01M461.8 401.8h.01M462 396.8h.01M462.3 401.1h.01M463.5 399.7h.01M463.8 395.7h.01M464.2 396.6h.01M464.2 397.4h.01M464.7 400.1h.01M464.8 400.3h.01M464.8 407.1h.01M464.9 396.3h.01M465.3 392h.01M466.1 406.1h.01M467.1 401.5h.01M467.2 403.2h.01M467.2 416.3h.01M467.3 411h.01M467.9 407.3h.01M467.9 409h.01M467.9 405h.01M468.4 409.5h.01M468.6 402h.01M468.6 401.5h.01M468.8 402.9h.01M468.9 413.1h.01M469.2 413.2h.01M469.9 403.3h.01M470 412h.01M470.8 406.3h.01M471.2 412.7h.01M471.4 406h.01M471.5 412.4h.01M471.9 407.5h.01M472 406.8h.01M473.2 409.2h.01M473.7 410.5h.01M473.9 407h.01M473.9 403.2h.01M474.1 418.4h.01M474.1 408.2h.01M474.2 401.3h.01M475.2 400h.01M475.5 397.6h.01M476.2 409h.01M476.2 418.8h.01M476.3 404.1h.01M477.4 411.6h.01M477.6 404.3h.01M478.5 419.6h.01M478.5 416h.01M480.1 417.4h.01M480.4 422.7h.01M480.6 424.3h.01M480.9 421.6h.01M481 413.7h.01M481.6 410.6h.01M481.9 412.3h.01M482.9 409.8h.01M482.9 427.4h.01M483.5 418.1h.01M483.6 419.8h.01M483.7 420.2h.01M483.8 429.3h.01M483.8 416.6h.01M483.8 425.2h.01M484.1 421.1h.01M484.2 418.9h.01M484.4 410.4h.01M484.9 424.9h.01M485 416.8h.01M485.1 418.3h.01M485.3 421.9h.01M485.4 421.4h.01M485.4 426.5h.01M485.8 417.9h.01M486.1 422.3h.01M486.4 423.2h.01M486.4 422h.01M486.5 425.4h.01M486.5 420.8h.01M486.6 428.1h.01M486.7 418.7h.01M487.3 415.7h.01M487.4 422.7h.01M487.7 429h.01M487.8 420.7h.01M487.9 420.2h.01M487.9 421.7h.01M488.4 424.7h.01M488.5 423.1h.01M489.2 426.2h.01M489.7 416.7h.01M489.9 432.7h.01M490.3 428.6h.01M490.3 421.5h.01M490.5 432.8h.01M491.1 428.8h.01M491.3 434.1h.01M492 421.7h.01M492.2 435.9h.01M493.1 428.8h.01M493.8 419h.01M494 433.2h.01M494.2 428.2h.01M494.5 425h.01M494.8 429.2h.01M495.1 421h.01M495.3 433.7h.01M496.1 430.6h.01M496.9 431.1h.01M497.3 439.9h.01M497.6 433.4h.01M497.8 430.2h.01M498.1 429h.01M498.2 433.5h.01M498.5 439.5h.01M498.8 431.6h.01M499.1 429.6h.01M499.1 439.4h.01M499.5 435.5h.01M499.7 435.3h.01M500 446.1h.01M500.9 430.6h.01M501 437.8h.01M501.3 428.3h.01M501.8 436.2h.01M502 440.8h.01M502.7 444.2h.01M502.8 432.4h.01M503 443.1h.01M503.8 443.8h.01M504.1 439.5h.01M504.7 453h.01M504.9 441h.01M505.2 436.9h.01M505.2 443.5h.01M505.3 432.2h.01M505.5 449.5h.01M505.7 446.8h.01M505.7 439.9h.01M506.4 445.7h.01M506.5 445.5h.01M506.6 452.5h.01M506.7 439.9h.01M507.3 437.2h.01M507.7 434h.01M508.3 443.3h.01M508.5 437.1h.01M508.9 444.5h.01M510 448.7h.01M510.2 444.6h.01M511.2 443.2h.01M512.1 454.9h.01M512.3 448.2h.01M512.6 450.7h.01M512.7 454.4h.01M512.9 443.4h.01M513.1 445.6h.01M513.3 462.9h.01M513.5 449.8h.01M514.2 446.2h.01M514.3 450.2h.01M514.4 448.8h.01M515.2 446.4h.01M516.2 451.7h.01M516.9 454.4h.01M517 454.6h.01M517.6 458.1h.01M517.8 446.9h.01M517.9 448.2h.01M518.5 460.3h.01M518.5 454.2h.01M519 463.1h.01M519.3 458.9h.01M519.4 450.4h.01M519.4 460.2h.01M520.8 454.1h.01M521.1 460.8h.01M522.1 466.9h.01M522.2 471.4h.01M523.8 462.4h.01M524.3 466.8h.01M524.5 465.1h.01M524.7 467.8h.01M525.2 451.7h.01M525.6 462.9h.01M525.6 466.4h.01M525.7 467.4h.01M526.5 462.3h.01M526.6 470.3h.01M526.7 471.8h.01M527.1 467.1h.01M527.1 465.6h.01M528.4 466.5h.01M528.5 469.1h.01M528.8 474.8h.01M528.8 476.4h.01M529.5 467.4h.01M529.6 465.2h.01M530 466.4h.01M531 476.6h.01M531.5 473.3h.01M531.6 473.9h.01M532.2 475.5h.01M532.3 475.1h.01M532.6 473h.01M532.7 468.5h.01M532.9 470.9h.01M533.1 474.9h.01M533.4 476.6h.01M534.7 474.4h.01M535 474.6h.01M535.2 483.8h.01M535.3 474.8h.01M535.8 478.9h.01M535.8 476.2h.01M536.5 474.3h.01M536.5 471h.01M537.2 476.8h.01M538.1 476.5h.01M538.2 485.1h.01M538.6 475.6h.01M538.7 479.4h.01M538.9 485h.01M539.2 481.6h.01M539.6 485.2h.01M539.7 487h.01M539.8 474.7h.01M540.1 481.3h.01M540.2 478.6h.01M540.6 490.8h.01M540.8 483.6h.01M540.9 486.8h.01M541.1 493.2h.01M541.2 482.9h.01M542 486.1h.01M542.1 488h.01M542.3 484.8h.01M542.5 492.8h.01M543.2 491.5h.01M543.5 492.8h.01M543.5 488.1h.01M544.5 487.5h.01M545.1 488.2h.01M545.6 488.9h.01M546.1 483.1h.01M546.2 493.3h.01M546.4 495.8h.01M546.5 491.7h.01M546.6 489.4h.01M546.7 492.4h.01M546.9 493.5h.01M547.2 494.4h.01M547.3 501.9h.01M547.8 489.3h.01M548.4 496.2h.01M548.5 498h.01M549.3 496h.01M549.6 494.9h.01M549.8 491.1h.01M549.9 493.5h.01M549.9 500h.01M550.6 504.7h.01M550.9 494.5h.01M550.9 500.2h.01M551.3 501h.01M551.5 503.7h.01M551.6 500h.01M551.7 501.1h.01M551.9 503.6h.01M551.9 493.4h.01M552.4 500.1h.01M552.7 491.5h.01M552.8 490.6h.01M553.3 497h.01M553.5 493.7h.01M554 504.6h.01M554 507.1h.01M554.8 501.6h.01M555.9 504h.01M556.2 503.9h.01M556.8 504.7h.01M557.2 507.2h.01M557.3 508.4h.01M557.3 504.4h.01M557.5 503h.01M557.8 504.8h.01M558 511.7h.01M558.4 506.1h.01M558.5 515.5h.01M558.5 507.1h.01M558.9 515.6h.01M558.9 502.9h.01M558.9 505.4h.01M559 511.5h.01M559.1 511.6h.01M559.1 508.4h.01M559.1 519.4h.01M559.3 509.8h.01M559.4 511.1h.01M559.5 507h.01M560.8 519.8h.01M560.8 515.8h.01M561.2 514.2h.01M561.2 504h.01M561.9 514.9h.01M562.4 511.4h.01M563.3 517h.01M563.6 520h.01M564 512.3h.01M564.3 517.5h.01M564.4 521h.01M564.6 517.7h.01M564.8 515.5h.01M565 512.3h.01M565.2 514.4h.01M565.2 511.5h.01M565.4 522.9h.01M565.5 518.7h.01M566.4 513.4h.01M566.9 520.1h.01M566.9 513.8h.01M567.6 504.8h.01M567.8 527.5h.01M568.2 527.8h.01M568.3 514.8h.01M569.1 519.8h.01M569.4 524.7h.01M569.8 522.3h.01M569.9 520.2h.01M570.3 522.4h.01M570.3 523.8h.01M570.5 522.5h.01M570.5 526.3h.01M570.8 524.5h.01M571.2 522.4h.01M571.4 526.6h.01M571.6 518.5h.01M571.8 534.2h.01M572 518.7h.01M572.4 527.5h.01M572.4 529.7h.01M572.7 530.4h.01M573.2 530.3h.01M573.2 535.4h.01M573.6 524h.01M573.6 529.2h.01M573.7 530.5h.01M574 527.8h.01M574.3 527.7h.01M574.5 537.3h.01M574.9 527.9h.01M574.9 529.2h.01M575.4 530.9h.01M575.7 531.5h.01M576 533.8h.01M576.7 533h.01M576.9 536.2h.01M577 535h.01M577.2 537.1h.01M577.4 541.7h.01M577.5 530.9h.01M577.9 543.9h.01M578.3 534h.01M578.4 539.8h.01M578.8 537.7h.01M579.1 535.9h.01M579.5 528.2h.01M580 546.7h.01M580.2 535.1h.01M581.4 536.7h.01M581.6 546.2h.01M581.6 541.3h.01M581.9 550.8h.01M582 549.9h.01M582 545h.01M582.1 542.9h.01M582.6 546h.01M582.6 535.8h.01M584.1 545.2h.01M585.7 547.3h.01M585.8 544.3h.01M586.1 548.4h.01M586.2 540.1h.01M586.4 552h.01M587.1 554.9h.01M587.2 542.2h.01M587.6 549.9h.01M587.8 557.1h.01M588.3 552.2h.01M588.8 545.7h.01M589.2 546.5h.01M590.5 557.3h.01M591.1 563.1h.01M591.8 549.5h.01M592.1 555.5h.01M592.3 551.7h.01M593.2 555.4h.01M593.3 558.4h.01M593.3 556.7h.01M593.4 553.6h.01M593.7 567.9h.01M594.2 557.3h.01M594.4 557.5h.01M594.8 564.4h.01M595.6 559.9h.01M595.7 559h.01M596 565.1h.01M596.6 556.1h.01M597.1 565.5h.01M597.4 567.3h.01M597.7 565.9h.01M597.7 561.8h.01M597.8 562.8h.01M598.3 554.9h.01M598.4 562.9h.01M598.4 564.9h.01M598.4 567.9h.01M598.5 564.4h.01M598.7 562.1h.01M598.8 560h.01M599.3 564.4h.01M599.5 565.7h.01M600 571.7h.01M600.3 566h.01M600.4 563.7h.01M600.5 565.7h.01M601.1 564.6h.01M601.2 566h.01M601.4 556.6h.01M601.5 559.7h.01M601.9 562.2h.01M602.2 570.8h.01M602.5 568.5h.01M602.7 570h.01M603.1 575.5h.01M603.2 564.7h.01M603.4 575.7h.01M604 572.7h.01M604.2 567.6h.01M605.6 580.3h.01M605.7 566h.01M605.7 567.5h.01M607.5 574.4h.01M607.9 577.8h.01M607.9 574.9h.01M608.5 566h.01M609.3 576.1h.01M610.6 578.7h.01M610.7 591.8h.01M611 586.5h.01M611.1 580.3h.01M611.1 574.3h.01M612 582.5h.01M612.1 575.2h.01M612.1 582h.01M612.2 582.9h.01M612.7 579.6h.01M612.7 582.9h.01M613.8 581.3h.01M614.3 580.7h.01M614.3 591.1h.01M614.5 586.6h.01M614.9 582.6h.01M615.2 580.8h.01M615.8 586.1h.01M615.8 588h.01M615.9 589.5h.01M616.5 593.3h.01M616.6 588.4h.01M617.3 581.4h.01M617.5 597.2h.01M617.8 593.2h.01M618 591.8h.01M618.1 594.3h.01M618.7 581.1h.01M618.8 586.7h.01M618.8 586h.01M618.9 594.6h.01M619 582.9h.01M619 587.2h.01M619.3 596.6h.01M619.5 592.5h.01M620 588h.01M620.1 599.2h.01M620.1 583.4h.01M620.5 592.6h.01M621 589.8h.01M621.2 593.6h.01M621.3 589.8h.01M622.2 588h.01M622.3 593.2h.01M623.5 587h.01M625.7 598.2h.01M625.8 594.1h.01M625.9 600.3h.01M626.4 594.1h.01M626.5 593h.01M626.6 598.5h.01M626.7 602.6h.01M626.7 586.3h.01M626.7 597.1h.01M627 599.9h.01M627.4 590.2h.01M627.4 592.9h.01M627.5 600.4h.01M628.6 594.2h.01M628.9 595.4h.01M629 607.1h.01M629.5 594.5h.01M630 595.3h.01M630.6 588.7h.01M630.7 594.8h.01M632.3 595.5h.01M632.6 610.2h.01M632.8 607.9h.01M633.2 596.1h.01M633.3 612.1h.01M634 606.8h.01M634 602.1h.01M634.8 607.5h.01M634.8 605.5h.01M634.9 599.9h.01M635.1 595.1h.01M635.5 599.7h.01M635.7 604.3h.01M635.9 602.7h.01M636.1 601h.01M636.7 609.8h.01M637.2 600.2h.01M637.3 609.9h.01M637.4 603.2h.01M637.4 606.1h.01M637.8 600.4h.01M638.6 606.4h.01M639.4 603.2h.01M639.7 598.6h.01M639.9 607.3h.01M640.2 607.3h.01M640.5 611.9h.01M641.1 609.7h.01M641.1 603.3h.01M641.9 605.8h.01M642 596.7h.01M642.2 603.5h.01M642.3 615.4h.01M642.4 616.6h.01M642.8 613.2h.01M642.9 611h.01M643.6 612.8h.01M643.7 612.4h.01M644.3 602h.01M644.4 606.3h.01M644.5 616.3h.01M644.6 616.3h.01M644.7 611.8h.01M645.2 609.5h.01M646.5 610h.01M647.1 609.6h.01M647.4 607.9h.01M649.5 604.4h.01M649.8 614.5h.01M649.9 611.7h.01M650 612.8h.01M650 622h.01M650.7 617.1h.01M651 611.1h.01M652.4 617.9h.01M652.8 608.3h.01M652.9 620.4h.01M653.1 616.8h.01M653.8 614.9h.01M654 618.7h.01M655.1 623.3h.01M655.8 614.7h.01M656.3 612.4h.01M656.7 627.1h.01M656.9 617.4h.01M658.5 625h.01M658.7 615h.01M659.1 620.1h.01M659.1 615.3h.01M660.1 621.6h.01M660.3 617.5h.01M660.5 615.8h.01M660.5 626h.01M660.6 620.5h.01M661.5 609.9h.01M661.5 618.2h.01M663.3 615.8h.01M663.3 614.4h.01M663.4 617.3h.01M663.7 617.9h.01M663.8 620.3h.01M663.9 616.5h.01M664.2 611.8h.01M664.5 617.9h.01M664.5 624.4h.01M664.6 614.2h.01M665.1 623.4h.01M665.4 622.8h.01M665.4 618.7h.01M665.6 622.2h.01M665.6 617.4h.01M666.3 619.2h.01M666.8 616.5h.01M667.3 623.4h.01M667.6 627.6h.01M667.9 618.5h.01M668.1 627h.01M668.3 612.1h.01M669 617.9h.01M670.1 617.7h.01M671.3 630.1h.01M672.8 620h.01M673.7 626.3h.01M673.9 613.7h.01M675 623.5h.01M675.6 625.7h.01M675.9 623h.01M676 611h.01M676.1 624h.01M676.2 626.9h.01M676.8 629.2h.01M677.3 625.2h.01M677.4 615.8h.01M677.5 622.5h.01M678.4 627.6h.01M678.9 619.9h.01M679.2 626.2h.01M679.6 621.5h.01M680.1 624.2h.01M680.2 627.1h.01M680.4 620.6h.01M682.3 624.7h.01M682.5 625.6h.01M682.6 620.7h.01M682.8 624.3h.01M683 622.9h.01M684.2 617.6h.01M684.3 617.3h.01M685.2 625.6h.01M685.2 623.9h.01M686.5 612.6h.01M686.9 614.8h.01M687.2 623.1h.01M687.8 624.2h.01M688.2 627.3h.01M688.4 619h.01M688.5 627.2h.01M689.5 623.3h.01M690.4 622.4h.01M690.4 624.1h.01M691 629.2h.01M691.3 627.3h.01M691.9 628.8h.01M691.9 621.7h.01M692 623.5h.01M692.1 619.6h.01M692.4 622.4h.01M692.9 623.1h.01M693.3 622.8h.01M693.6 628.1h.01M696.1 627h.01M696.2 628.5h.01M696.3 625.7h.01M696.9 630h.01M697 625.6h.01M697.2 629.5h.01M697.4 627.4h.01M697.8 628.5h.01M697.9 624.9h.01M697.9 619.6h.01M700.2 618.8h.01M700.4 634.1h.01M700.5 627.1h.01M700.5 627.3h.01M701 624.6h.01M701.6 623.3h.01M701.7 620.3h.01M702.6 625.1h.01M703 625.2h.01M703.1 620.3h.01M704 619.8h.01M704.4 622.3h.01M704.6 624h.01M704.6 623.3h.01M704.7 629.2h.01M704.9 620.2h.01M705 627.3h.01M705.6 632.2h.01M705.8 629.6h.01M706 620.4h.01M706.1 612.3h.01M706.4 629.4h.01M706.6 627.8h.01M707.1 623h.01M707.4 631.4h.01M707.4 623.8h.01M707.4 626.1h.01M708.4 621h.01M708.9 627.1h.01M709.5 623.8h.01M709.6 623.4h.01M709.6 630.6h.01M710.1 626.7h.01M710.9 619h.01M711 628.9h.01M711.2 629.5h.01M711.7 622h.01M712.9 624h.01M712.9 626.1h.01M713 624.7h.01M714 626.4h.01M714.3 628.8h.01M715.1 623.7h.01M715.7 635.3h.01M716.1 622.7h.01M716.1 623.5h.01M716.2 634.8h.01M716.9 626.1h.01M717.3 625.1h.01M717.3 621.1h.01M717.8 631.1h.01M718.2 626.8h.01M718.8 622.2h.01M719 627.8h.01M719.4 632.2h.01M720 629.1h.01M720.8 636h.01M720.9 631.3h.01M721.6 628.1h.01M721.6 625.9h.01M721.7 628.6h.01M722.5 631.6h.01M722.7 630h.01M723.1 630.9h.01M723.4 627.1h.01M723.5 629.6h.01M723.7 631.6h.01M725.9 625.5h.01M726 620.4h.01M726.3 634h.01M726.7 628.9h.01M726.9 624.3h.01M727.3 627.3h.01M728.3 625.2h.01M728.8 618.6h.01M728.9 625.5h.01M729.2 619.9h.01M729.3 627.2h.01M729.9 625.8h.01M730.9 631.4h.01M731.3 625.8h.01M731.5 628h.01M731.7 625h.01M731.9 624.7h.01M732.4 620.1h.01M732.5 630.8h.01M732.7 627.2h.01M732.7 623.8h.01M732.9 627.3h.01M732.9 624.5h.01M733.1 623.1h.01M733.4 627.5h.01M733.5 631.9h.01M733.7 625.2h.01M734.2 620h.01M734.9 623.7h.01M734.9 634.5h.01M735 622.8h.01M735.1 631.8h.01M735.1 625.4h.01M735.3 629.8h.01M735.3 626h.01M735.4 619.3h.01M735.7 624.6h.01M735.7 636h.01M735.9 625.9h.01M736 629h.01M736.1 625h.01M737.3 625.9h.01M737.3 627.9h.01M737.6 628.6h.01M737.8 626.4h.01M738 625.7h.01M738.1 623.5h.01M738.4 620.6h.01M739.1 619.3h.01M740.1 629.5h.01M740.3 618.2h.01M740.3 632.9h.01M740.5 630.4h.01M740.7 625.2h.01M741.1 621.4h.01M741.6 626.7h.01M742.4 626.7h.01M743.1 631.7h.01M743.6 623.3h.01M746.8 625h.01M747.9 626.5h.01M748.2 625.5h.01M748.8 623.9h.01M749.1 619h.01M749.6 619.4h.01" stroke="#440154" stroke-width="7.0" stroke-linecap="round" fill="none"/>
<polyline points="150,58.1 151.3,60.1 152.6,62.1 153.9,64.1 155.1,66.1 156.4,68.1 157.7,70.1 159,72.1 160.3,74.1 161.6,76.1 162.8,78.1 164.1,80 165.4,82 166.7,84 168,85.9 169.3,87.9 170.5,89.8 171.8,91.8 173.1,93.7 174.4,95.6 175.7,97.5 177,99.5 178.3,101.4 179.5,103.3 180.8,105.2 182.1,107.1 183.4,109 184.7,110.9 186,112.7 187.2,114.6 188.5,116.5 189.8,118.3 191.1,120.2 192.4,122 193.7,123.9 194.9,125.7 196.2,127.6 197.5,129.4 198.8,131.2 200.1,133 201.4,134.8 202.7,136.6 203.9,138.4 205.2,140.2 206.5,142 207.8,143.8 209.1,145.6 210.4,147.4 211.6,149.1 212.9,150.9 214.2,152.6 215.5,154.4 216.8,156.1 218.1,157.9 219.3,159.6 220.6,161.3 221.9,163 223.2,164.7 224.5,166.5 225.8,168.2 227.1,169.9 228.3,171.5 229.6,173.2 230.9,174.9 232.2,176.6 233.5,178.2 234.8,179.9 236,181.6 237.3,183.2 238.6,184.9 239.9,186.5 241.2,188.1 242.5,189.8 243.7,191.4 245,193 246.3,194.6 247.6,196.2 248.9,197.8 250.2,199.4 251.5,201 252.7,202.6 254,204.2 255.3,205.7 256.6,207.3 257.9,208.9 259.2,210.4 260.4,212 261.7,213.5 263,215 264.3,216.6 265.6,218.1 266.9,219.6 268.1,221.1 269.4,222.6 270.7,224.2 272,225.7 273.3,227.1 274.6,228.6 275.9,230.1 277.1,231.6 278.4,233.1 279.7,234.5 281,236 282.3,237.5 283.6,238.9 284.8,240.4 286.1,241.8 287.4,243.3 288.7,244.7 290,246.1 291.3,247.5 292.5,249 293.8,250.4 295.1,251.8 296.4,253.2 297.7,254.6 299,256 300.3,257.4 301.5,258.8 302.8,260.2 304.1,261.5 305.4,262.9 306.7,264.3 308,265.6 309.2,267 310.5,268.4 311.8,269.7 313.1,271.1 314.4,272.4 315.7,273.7 316.9,275.1 318.2,276.4 319.5,277.7 320.8,279.1 322.1,280.4 323.4,281.7 324.7,283 325.9,284.3 327.2,285.6 328.5,286.9 329.8,288.2 331.1,289.5 332.4,290.8 333.6,292.1 334.9,293.4 336.2,294.7 337.5,296 338.8,297.2 340.1,298.5 341.3,299.8 342.6,301.1 343.9,302.3 345.2,303.6 346.5,304.9 347.8,306.1 349.1,307.4 350.3,308.6 351.6,309.9 352.9,311.1 354.2,312.4 355.5,313.6 356.8,314.9 358,316.1 359.3,317.4 360.6,318.6 361.9,319.9 363.2,321.1 364.5,322.4 365.7,323.6 367,324.8 368.3,326.1 369.6,327.3 370.9,328.6 372.2,329.8 373.5,331 374.7,332.3 376,333.5 377.3,334.7 378.6,336 379.9,337.2 381.2,338.5 382.4,339.7 383.7,340.9 385,342.2 386.3,343.4 387.6,344.7 388.9,345.9 390.1,347.1 391.4,348.4 392.7,349.6 394,350.9 395.3,352.1 396.6,353.4 397.9,354.7 399.1,355.9 400.4,357.2 401.7,358.4 403,359.7 404.3,361 405.6,362.3 406.8,363.5 408.1,364.8 409.4,366.1 410.7,367.4 412,368.7 413.3,370 414.5,371.3 415.8,372.6 417.1,373.9 418.4,375.2 419.7,376.5 421,377.8 422.3,379.2 423.5,380.5 424.8,381.9 426.1,383.2 427.4,384.5 428.7,385.9 430,387.3 431.2,388.6 432.5,390 433.8,391.4 435.1,392.8 436.4,394.2 437.7,395.6 438.9,397 440.2,398.4 441.5,399.8 442.8,401.3 444.1,402.7 445.4,404.1 446.7,405.6 447.9,407.1 449.2,408.5 450.5,410 451.8,411.5 453.1,413 454.4,414.5 455.6,416 456.9,417.5 458.2,419.1 459.5,420.6 460.8,422.2 462.1,423.7 463.3,425.3 464.6,426.9 465.9,428.5 467.2,430.1 468.5,431.7 469.8,433.3 471.1,434.9 472.3,436.5 473.6,438.2 474.9,439.8 476.2,441.5 477.5,443.2 478.8,444.9 480,446.6 481.3,448.3 482.6,450 483.9,451.7 485.2,453.4 486.5,455.2 487.7,456.9 489,458.7 490.3,460.5 491.6,462.2 492.9,464 494.2,465.8 495.5,467.6 496.7,469.5 498,471.3 499.3,473.1 500.6,474.9 501.9,476.8 503.2,478.7 504.4,480.5 505.7,482.4 507,484.3 508.3,486.1 509.6,488 510.9,489.9 512.1,491.8 513.4,493.7 514.7,495.6 516,497.6 517.3,499.5 518.6,501.4 519.9,503.3 521.1,505.2 522.4,507.2 523.7,509.1 525,511 526.3,513 527.6,514.9 528.8,516.8 530.1,518.8 531.4,520.7 532.7,522.6 534,524.5 535.3,526.5 536.5,528.4 537.8,530.3 539.1,532.2 540.4,534.1 541.7,536 543,537.9 544.3,539.8 545.5,541.6 546.8,543.5 548.1,545.3 549.4,547.2 550.7,549 552,550.8 553.2,552.6 554.5,554.4 555.8,556.2 557.1,557.9 558.4,559.7 559.7,561.4 560.9,563.1 562.2,564.8 563.5,566.4 564.8,568.1 566.1,569.7 567.4,571.3 568.7,572.9 569.9,574.4 571.2,576 572.5,577.5 573.8,579 575.1,580.4 576.4,581.9 577.6,583.3 578.9,584.7 580.2,586 581.5,587.4 582.8,588.7 584.1,589.9 585.3,591.2 586.6,592.4 587.9,593.6 589.2,594.8 590.5,595.9 591.8,597 593.1,598.1 594.3,599.1 595.6,600.1 596.9,601.1 598.2,602 599.5,603 600.8,603.9 602,604.7 603.3,605.6 604.6,606.4 605.9,607.1 607.2,607.9 608.5,608.6 609.7,609.3 611,610 612.3,610.6 613.6,611.2 614.9,611.8 616.2,612.4 617.5,612.9 618.7,613.4 620,613.9 621.3,614.4 622.6,614.8 623.9,615.2 625.2,615.6 626.4,616 627.7,616.4 629,616.7 630.3,617.1 631.6,617.4 632.9,617.7 634.1,618 635.4,618.2 636.7,618.5 638,618.7 639.3,618.9 640.6,619.1 641.9,619.3 643.1,619.5 644.4,619.7 645.7,619.9 647,620 648.3,620.2 649.6,620.3 650.8,620.5 652.1,620.6 653.4,620.7 654.7,620.8 656,620.9 657.3,621 658.5,621.1 659.8,621.2 661.1,621.3 662.4,621.4" fill="none" stroke="#000" stroke-width="5.6" stroke-linejoin="round"/>
<polyline points="150,44.6 151.7,46.8 153.5,49 155.2,51.2 156.9,53.4 158.7,55.6 160.4,57.8 162.1,60 163.8,62.3 165.6,64.5 167.3,66.8 169,69.1 170.8,71.3 172.5,73.6 174.2,75.9 176,78.3 177.7,80.6 179.4,82.9 181.2,85.3 182.9,87.6 184.6,90 186.3,92.3 188.1,94.7 189.8,97.1 191.5,99.5 193.3,101.9 195,104.3 196.7,106.7 198.5,109.2 200.2,111.6 201.9,114 203.7,116.5 205.4,118.9 207.1,121.4 208.8,123.8 210.6,126.3 212.3,128.8 214,131.2 215.8,133.7 217.5,136.2 219.2,138.7 221,141.2 222.7,143.7 224.4,146.2 226.2,148.7 227.9,151.2 229.6,153.7 231.3,156.2 233.1,158.7 234.8,161.2 236.5,163.7 238.3,166.2 240,168.7 241.7,171.2 243.5,173.7 245.2,176.2 246.9,178.7 248.7,181.2 250.4,183.7 252.1,186.2 253.8,188.7 255.6,191.2 257.3,193.7 259,196.1 260.8,198.6 262.5,201.1 264.2,203.5 266,206 267.7,208.4 269.4,210.9 271.2,213.3 272.9,215.7 274.6,218.1 276.4,220.5 278.1,222.9 279.8,225.3 281.5,227.7 283.3,230.1 285,232.4 286.7,234.7 288.5,237.1 290.2,239.4 291.9,241.7 293.7,244 295.4,246.3 297.1,248.5 298.9,250.8 300.6,253 302.3,255.2 304,257.5 305.8,259.6 307.5,261.8 309.2,264 311,266.1 312.7,268.2 314.4,270.3 316.2,272.4 317.9,274.5 319.6,276.5 321.4,278.6 323.1,280.6 324.8,282.6 326.5,284.5 328.3,286.5 330,288.4 331.7,290.3 333.5,292.2 335.2,294.1 336.9,295.9 338.7,297.7 340.4,299.5 342.1,301.3 343.9,303.1 345.6,304.8 347.3,306.5 349,308.2 350.8,309.8 352.5,311.5 354.2,313.1 356,314.7 357.7,316.2 359.4,317.8 361.2,319.3 362.9,320.8 364.6,322.3 366.4,323.7 368.1,325.1 369.8,326.5 371.5,327.9 373.3,329.2 375,330.5 376.7,331.8 378.5,333.1 380.2,334.4 381.9,335.6 383.7,336.8 385.4,337.9 387.1,339.1 388.9,340.2 390.6,341.3 392.3,342.4 394,343.4 395.8,344.5 397.5,345.5 399.2,346.5 401,347.4 402.7,348.4 404.4,349.3 406.2,350.2 407.9,351.1 409.6,351.9 411.4,352.7 413.1,353.5 414.8,354.3 416.5,355.1 418.3,355.8 420,356.6 421.7,357.3 423.5,358 425.2,358.6 426.9,359.3 428.7,359.9 430.4,360.6 432.1,361.2 433.9,361.7 435.6,362.3 437.3,362.9 439,363.4 440.8,363.9 442.5,364.4 444.2,364.9 446,365.4 447.7,365.9 449.4,366.3 451.2,366.8 452.9,367.2 454.6,367.6 456.4,368.1 458.1,368.5 459.8,368.9 461.5,369.2 463.3,369.6 465,370 466.7,370.3 468.5,370.7 470.2,371 471.9,371.3 473.7,371.7 475.4,372 477.1,372.3 478.9,372.6 480.6,372.9 482.3,373.2 484,373.5 485.8,373.8 487.5,374.1 489.2,374.4 491,374.7 492.7,375 494.4,375.3 496.2,375.6 497.9,375.9 499.6,376.1 501.4,376.4 503.1,376.7 504.8,377 506.6,377.3 508.3,377.6 510,377.9 511.7,378.2 513.5,378.5 515.2,378.8 516.9,379.1 518.7,379.4 520.4,379.7 522.1,380 523.9,380.3 525.6,380.7 527.3,381 529.1,381.3 530.8,381.7 532.5,382 534.2,382.4 536,382.8 537.7,383.1 539.4,383.5 541.2,383.9 542.9,384.3 544.6,384.7 546.4,385.1 548.1,385.6 549.8,386 551.6,386.5 553.3,386.9 555,387.4 556.7,387.8 558.5,388.3 560.2,388.8 561.9,389.3 563.7,389.9 565.4,390.4 567.1,391 568.9,391.5 570.6,392.1 572.3,392.7 574.1,393.3 575.8,393.9 577.5,394.5 579.2,395.2 581,395.8 582.7,396.5 584.4,397.2 586.2,397.9 587.9,398.6 589.6,399.4 591.4,400.1 593.1,400.9 594.8,401.7 596.6,402.5 598.3,403.4 600,404.2 601.7,405.1 603.5,406 605.2,406.9 606.9,407.8 608.7,408.8 610.4,409.7 612.1,410.7 613.9,411.7 615.6,412.8 617.3,413.8 619.1,414.9 620.8,416 622.5,417.1 624.2,418.3 626,419.5 627.7,420.7 629.4,421.9 631.2,423.2 632.9,424.4 634.6,425.7 636.4,427.1 638.1,428.4 639.8,429.8 641.6,431.2 643.3,432.6 645,434.1 646.7,435.6 648.5,437.1 650.2,438.7 651.9,440.2 653.7,441.8 655.4,443.5 657.1,445.1 658.9,446.8 660.6,448.5 662.3,450.3 664.1,452 665.8,453.9 667.5,455.7 669.2,457.5 671,459.4 672.7,461.3 674.4,463.3 676.2,465.3 677.9,467.3 679.6,469.3 681.4,471.3 683.1,473.4 684.8,475.5 686.6,477.7 688.3,479.8 690,482 691.7,484.2 693.5,486.4 695.2,488.7 696.9,491 698.7,493.3 700.4,495.6 702.1,497.9 703.9,500.3 705.6,502.7 707.3,505 709.1,507.4 710.8,509.9 712.5,512.3 714.2,514.7 716,517.2 717.7,519.7 719.4,522.1 721.2,524.6 722.9,527.1 724.6,529.6 726.4,532 728.1,534.5 729.8,537 731.6,539.5 733.3,541.9 735,544.4 736.8,546.8 738.5,549.3 740.2,551.7 741.9,554.1 743.7,556.5 745.4,558.9 747.1,561.2 748.9,563.5 750.6,565.8 752.3,568.1 754.1,570.3 755.8,572.5 757.5,574.7 759.3,576.8 761,578.9 762.7,581 764.4,583 766.2,585 767.9,586.9 769.6,588.8 771.4,590.6 773.1,592.4 774.8,594.2 776.6,595.9 778.3,597.5 780,599.1 781.8,600.6 783.5,602.1 785.2,603.5 786.9,604.9 788.7,606.2 790.4,607.4 792.1,608.6 793.9,609.8 795.6,610.9 797.3,611.9 799.1,612.9 800.8,613.8 802.5,614.7 804.3,615.5 806,616.3 807.7,617 809.4,617.7 811.2,618.4 812.9,619 814.6,619.5 816.4,620 818.1,620.5 819.8,620.9 821.6,621.3 823.3,621.7 825,622 826.8,622.4 828.5,622.6 830.2,622.9 831.9,623.1 833.7,623.3 835.4,623.5 837.1,623.7 838.9,623.8 840.6,623.9" fill="none" stroke="#000" stroke-width="5.6" stroke-linejoin="round"/>
<polyline points="150,57.9 151.5,60.2 153,62.6 154.5,65 156,67.3 157.5,69.7 159,72 160.5,74.3 162,76.6 163.5,79 165,81.3 166.5,83.6 168,85.9 169.5,88.1 171,90.4 172.5,92.7 174,95 175.5,97.2 177,99.5 178.5,101.7 180,103.9 181.5,106.2 183,108.4 184.5,110.6 186,112.8 187.5,115 189,117.2 190.5,119.4 192,121.6 193.5,123.7 195,125.9 196.5,128.1 198,130.2 199.5,132.3 201,134.5 202.5,136.6 204,138.7 205.5,140.8 207,142.9 208.5,145 210,147.1 211.5,149.2 213,151.3 214.5,153.3 216,155.4 217.5,157.4 219,159.5 220.5,161.5 222,163.5 223.5,165.5 225,167.5 226.5,169.5 228,171.5 229.5,173.5 231,175.5 232.5,177.5 234,179.4 235.5,181.4 237,183.3 238.5,185.3 240,187.2 241.5,189.1 243,191 244.5,192.9 246,194.8 247.5,196.7 249,198.6 250.6,200.5 252.1,202.3 253.6,204.2 255.1,206 256.6,207.9 258.1,209.7 259.6,211.5 261.1,213.3 262.6,215.1 264.1,216.9 265.6,218.7 267.1,220.5 268.6,222.3 270.1,224.1 271.6,225.8 273.1,227.6 274.6,229.3 276.1,231.1 277.6,232.8 279.1,234.5 280.6,236.2 282.1,237.9 283.6,239.6 285.1,241.3 286.6,243 288.1,244.7 289.6,246.3 291.1,248 292.6,249.6 294.1,251.3 295.6,252.9 297.1,254.5 298.6,256.1 300.1,257.8 301.6,259.4 303.1,261 304.6,262.5 306.1,264.1 307.6,265.7 309.1,267.3 310.6,268.8 312.1,270.4 313.6,271.9 315.1,273.4 316.6,275 318.1,276.5 319.6,278 321.1,279.5 322.6,281 324.1,282.5 325.6,284 327.1,285.5 328.6,286.9 330.1,288.4 331.6,289.9 333.1,291.3 334.6,292.8 336.1,294.2 337.6,295.6 339.1,297 340.6,298.5 342.1,299.9 343.6,301.3 345.1,302.7 346.6,304.1 348.1,305.5 349.6,306.8 351.1,308.2 352.6,309.6 354.1,310.9 355.6,312.3 357.1,313.7 358.6,315 360.1,316.3 361.6,317.7 363.1,319 364.6,320.3 366.1,321.7 367.6,323 369.1,324.3 370.6,325.6 372.1,326.9 373.6,328.2 375.1,329.5 376.6,330.8 378.1,332 379.6,333.3 381.1,334.6 382.6,335.9 384.1,337.1 385.6,338.4 387.1,339.7 388.6,340.9 390.1,342.2 391.6,343.4 393.1,344.7 394.6,345.9 396.1,347.2 397.6,348.4 399.1,349.7 400.6,350.9 402.1,352.1 403.6,353.4 405.1,354.6 406.6,355.8 408.1,357.1 409.6,358.3 411.1,359.5 412.6,360.7 414.1,362 415.6,363.2 417.1,364.4 418.6,365.6 420.1,366.9 421.6,368.1 423.1,369.3 424.6,370.5 426.1,371.8 427.6,373 429.1,374.2 430.6,375.5 432.1,376.7 433.6,377.9 435.1,379.2 436.6,380.4 438.1,381.7 439.6,382.9 441.1,384.1 442.6,385.4 444.1,386.7 445.6,387.9 447.1,389.2 448.6,390.5 450.2,391.7 451.7,393 453.2,394.3 454.7,395.6 456.2,396.9 457.7,398.2 459.2,399.5 460.7,400.8 462.2,402.1 463.7,403.5 465.2,404.8 466.7,406.1 468.2,407.5 469.7,408.9 471.2,410.2 472.7,411.6 474.2,413 475.7,414.4 477.2,415.8 478.7,417.2 480.2,418.6 481.7,420.1 483.2,421.5 484.7,423 486.2,424.4 487.7,425.9 489.2,427.4 490.7,428.9 492.2,430.4 493.7,432 495.2,433.5 496.7,435.1 498.2,436.6 499.7,438.2 501.2,439.8 502.7,441.4 504.2,443 505.7,444.6 507.2,446.3 508.7,448 510.2,449.6 511.7,451.3 513.2,453 514.7,454.8 516.2,456.5 517.7,458.2 519.2,460 520.7,461.8 522.2,463.6 523.7,465.4 525.2,467.2 526.7,469 528.2,470.9 529.7,472.8 531.2,474.6 532.7,476.5 534.2,478.5 535.7,480.4 537.2,482.3 538.7,484.3 540.2,486.2 541.7,488.2 543.2,490.2 544.7,492.2 546.2,494.2 547.7,496.3 549.2,498.3 550.7,500.4 552.2,502.4 553.7,504.5 555.2,506.6 556.7,508.7 558.2,510.7 559.7,512.8 561.2,515 562.7,517.1 564.2,519.2 565.7,521.3 567.2,523.4 568.7,525.6 570.2,527.7 571.7,529.8 573.2,531.9 574.7,534.1 576.2,536.2 577.7,538.3 579.2,540.4 580.7,542.5 582.2,544.6 583.7,546.7 585.2,548.8 586.7,550.9 588.2,552.9 589.7,555 591.2,557 592.7,559 594.2,561 595.7,563 597.2,564.9 598.7,566.9 600.2,568.8 601.7,570.7 603.2,572.5 604.7,574.4 606.2,576.2 607.7,578 609.2,579.7 610.7,581.4 612.2,583.1 613.7,584.8 615.2,586.4 616.7,587.9 618.2,589.5 619.7,591 621.2,592.5 622.7,593.9 624.2,595.3 625.7,596.6 627.2,598 628.7,599.2 630.2,600.5 631.7,601.6 633.2,602.8 634.7,603.9 636.2,605 637.7,606 639.2,607 640.7,607.9 642.2,608.8 643.7,609.7 645.2,610.5 646.7,611.3 648.2,612 649.8,612.7 651.3,613.4 652.8,614 654.3,614.6 655.8,615.2 657.3,615.8 658.8,616.3 660.3,616.7 661.8,617.2 663.3,617.6 664.8,618 666.3,618.4 667.8,618.7 669.3,619 670.8,619.3 672.3,619.6 673.8,619.8 675.3,620.1 676.8,620.3 678.3,620.5 679.8,620.7 681.3,620.9 682.8,621 684.3,621.2 685.8,621.3 687.3,621.5 688.8,621.6 690.3,621.7 691.8,621.8 693.3,621.9 694.8,622 696.3,622.1 697.8,622.2 699.3,622.3 700.8,622.3 702.3,622.4 703.8,622.5 705.3,622.5 706.8,622.6 708.3,622.7 709.8,622.7 711.3,622.8 712.8,622.8 714.3,622.9 715.8,622.9 717.3,623 718.8,623 720.3,623.1 721.8,623.1 723.3,623.1 724.8,623.2 726.3,623.2 727.8,623.3 729.3,623.3 730.8,623.3 732.3,623.4 733.8,623.4 735.3,623.4 736.8,623.5 738.3,623.5 739.8,623.5 741.3,623.6 742.8,623.6 744.3,623.6 745.8,623.7 747.3,623.7 748.8,623.7" fill="none" stroke="#000" stroke-width="5.6" stroke-linejoin="round"/>
</g>
<rect x="150.0" y="1.7" width="690.6" height="631.0999999999999" fill="none" stroke="#000" stroke-width="3.7"/>
<line x1="150.0" y1="624.70" x2="134.0" y2="624.70" stroke="#000" stroke-width="3.7"/>
<text x="61.65" y="641.3" font-size="46.3">0.0</text>
<line x1="150.0" y1="511.40" x2="134.0" y2="511.40" stroke="#000" stroke-width="3.7"/>
<text x="61.65" y="528" font-size="46.3">0.2</text>
<line x1="150.0" y1="398.10" x2="134.0" y2="398.10" stroke="#000" stroke-width="3.7"/>
<text x="61.69" y="414.7" font-size="46.3" textLength="56.69" lengthAdjust="spacingAndGlyphs">0.4</text>
<line x1="150.0" y1="284.80" x2="134.0" y2="284.80" stroke="#000" stroke-width="3.7"/>
<text x="61.65" y="301.4" font-size="46.3">0.6</text>
<line x1="150.0" y1="171.50" x2="134.0" y2="171.50" stroke="#000" stroke-width="3.7"/>
<text x="61.65" y="188.1" font-size="46.3">0.8</text>
<line x1="150.0" y1="58.20" x2="134.0" y2="58.20" stroke="#000" stroke-width="3.7"/>
<text x="60.37" y="74.8" font-size="46.3" textLength="59.22" lengthAdjust="spacingAndGlyphs">1.0</text>
<line x1="212.50" y1="632.8" x2="212.50" y2="648.8" stroke="#000" stroke-width="3.7"/>
<text x="166.41" y="695.6" font-size="46.3">10</text>
<text x="212.02" y="680" font-size="32.8" textLength="45.29" lengthAdjust="spacingAndGlyphs">−5</text>
<line x1="391.74" y1="632.8" x2="391.74" y2="648.8" stroke="#000" stroke-width="3.7"/>
<text x="345.65" y="695.6" font-size="46.3">10</text>
<text x="391.26" y="680" font-size="32.8" textLength="45.29" lengthAdjust="spacingAndGlyphs">−3</text>
<line x1="570.98" y1="632.8" x2="570.98" y2="648.8" stroke="#000" stroke-width="3.7"/>
<text x="524.89" y="695.6" font-size="46.3">10</text>
<text x="570.46" y="680" font-size="32.8" textLength="46.24" lengthAdjust="spacingAndGlyphs">−1</text>
<line x1="750.22" y1="632.8" x2="750.22" y2="648.8" stroke="#000" stroke-width="3.7"/>
<text x="719.08" y="695.6" font-size="46.3">10</text>
<text x="764.03" y="680" font-size="32.8">1</text>
<text x="456.96" y="755.3" font-size="46.3" textLength="15.03" lengthAdjust="spacingAndGlyphs" font-style="italic">t</text>
<text transform="matrix(0.64 0 0 1.19 492.08 759.53)" font-size="46.3">[</text><text x="500.98" y="755.3" font-size="46.3" textLength="18.65" lengthAdjust="spacingAndGlyphs">s</text><text transform="matrix(0.58 0 0 1.19 519.27 759.53)" font-size="46.3">]</text>
<text x="765.31" y="63.5" font-size="46.3" textLength="37.51" lengthAdjust="spacingAndGlyphs">a)</text>
<g transform="translate(33.8,388.8) rotate(-90)"><text x="-1.54" y="0" font-size="46.3" textLength="26.86" lengthAdjust="spacingAndGlyphs" font-style="italic">α</text><text transform="matrix(1.33 0 0 1.41 30.1 9.25)" font-size="46.3">/</text><text x="49.4" y="0" font-size="46.3" textLength="26.25" lengthAdjust="spacingAndGlyphs" font-style="italic">α</text><text x="78.45" y="6" font-size="31" textLength="64.49" lengthAdjust="spacingAndGlyphs">max</text></g>
<rect x="577.3" y="96.5" width="240.5" height="197.5" fill="#fff" stroke="#000" stroke-width="3.7"/>
<circle cx="604.1" cy="129.5" r="9" fill="#31688e"/>
<text x="647.6" y="145.4" font-size="46.3" textLength="94.9" lengthAdjust="spacingAndGlyphs">c-LN</text>
<circle cx="604.1" cy="191.6" r="9" fill="#35b779"/>
<text x="647.97" y="208.5" font-size="46.3" textLength="152" lengthAdjust="spacingAndGlyphs">LNT-01</text>
<circle cx="604.1" cy="253.5" r="9" fill="#440154"/>
<text x="647.5" y="269.7" font-size="46.3" textLength="90.39" lengthAdjust="spacingAndGlyphs">c-LT</text>
<defs><clipPath id="cr"><rect x="862.5" y="1.7" width="690.4000000000001" height="630.9"/></clipPath></defs>
<g clip-path="url(#cr)">
<g fill="#31688e"><path d="M924.5 361.5H954M939.2 349.5V373.5M924.5 344V379M954 344V379M921.7 349.5H956.7M921.7 373.5H956.7M974.3 336.7H1006.3M990.3 329.2V344.2M974.3 319.2V354.2M1006.3 319.2V354.2M972.8 329.2H1007.8M972.8 344.2H1007.8M1034.2 321.3H1057M1045.6 309.3V333.3M1034.2 303.8V338.8M1057 303.8V338.8M1028.1 309.3H1063.1M1028.1 333.3H1063.1M1092.5 306.3H1117.5M1105 292.3V320.3M1092.5 288.8V323.8M1117.5 288.8V323.8M1087.5 292.3H1122.5M1087.5 320.3H1122.5M1156.9 285H1184.1M1170.5 271V299M1156.9 267.5V302.5M1184.1 267.5V302.5M1153 271H1188M1153 299H1188M1233.9 254.5H1248.7M1241.3 235.5V273.5M1233.9 237V272M1248.7 237V272M1223.8 235.5H1258.8M1223.8 273.5H1258.8M1309.6 222H1326.8M1318.2 196V248M1309.6 204.5V239.5M1326.8 204.5V239.5M1300.7 196H1335.7M1300.7 248H1335.7M1393.7 212.8H1411.9M1402.8 195.1V230.5M1393.7 195.3V230.3M1411.9 195.3V230.3M1385.3 195.1H1420.3M1385.3 230.5H1420.3M1486.9 186H1506.5M1496.7 154.7V217.3M1486.9 168.5V203.5M1506.5 168.5V203.5M1479.2 154.7H1514.2M1479.2 217.3H1514.2" stroke="#31688e" stroke-width="5.0" fill="none"/><circle cx="939.2" cy="361.5" r="9"/><circle cx="990.3" cy="336.7" r="9"/><circle cx="1045.6" cy="321.3" r="9"/><circle cx="1105" cy="306.3" r="9"/><circle cx="1170.5" cy="285" r="9"/><circle cx="1241.3" cy="254.5" r="9"/><circle cx="1318.2" cy="222" r="9"/><circle cx="1402.8" cy="212.8" r="9"/><circle cx="1496.7" cy="186" r="9"/></g>
<g fill="#35b779"><path d="M924.5 247.7H954M939.2 241.2V254.2M924.5 230.2V265.2M954 230.2V265.2M921.7 241.2H956.7M921.7 254.2H956.7M974.3 231.3H1006.3M990.3 224.3V238.3M974.3 213.8V248.8M1006.3 213.8V248.8M972.8 224.3H1007.8M972.8 238.3H1007.8M1034.2 208.8H1057M1045.6 201V216.6M1034.2 191.3V226.3M1057 191.3V226.3M1028.1 201H1063.1M1028.1 216.6H1063.1M1092.5 192.6H1117.5M1105 186.6V198.6M1092.5 175.1V210.1M1117.5 175.1V210.1M1087.5 186.6H1122.5M1087.5 198.6H1122.5M1156.9 166.8H1184.1M1170.5 155.8V177.8M1156.9 149.3V184.3M1184.1 149.3V184.3M1153 155.8H1188M1153 177.8H1188M1233.9 146H1248.7M1241.3 136V156M1233.9 128.5V163.5M1248.7 128.5V163.5M1223.8 136H1258.8M1223.8 156H1258.8M1309.6 119.9H1326.8M1318.2 108.9V130.9M1309.6 102.4V137.4M1326.8 102.4V137.4M1300.7 108.9H1335.7M1300.7 130.9H1335.7M1393.7 91.4H1411.9M1402.8 77V105.8M1393.7 73.9V108.9M1411.9 73.9V108.9M1385.3 77H1420.3M1385.3 105.8H1420.3M1486.9 63.8H1506.5M1496.7 50.5V77.1M1486.9 46.3V81.3M1506.5 46.3V81.3M1479.2 50.5H1514.2M1479.2 77.1H1514.2" stroke="#35b779" stroke-width="5.0" fill="none"/><circle cx="939.2" cy="247.7" r="9"/><circle cx="990.3" cy="231.3" r="9"/><circle cx="1045.6" cy="208.8" r="9"/><circle cx="1105" cy="192.6" r="9"/><circle cx="1170.5" cy="166.8" r="9"/><circle cx="1241.3" cy="146" r="9"/><circle cx="1318.2" cy="119.9" r="9"/><circle cx="1402.8" cy="91.4" r="9"/><circle cx="1496.7" cy="63.8" r="9"/></g>
<g fill="#440154"><path d="M924.5 334.5H954M939.2 325.5V343.5M924.5 317V352M954 317V352M921.7 325.5H956.7M921.7 343.5H956.7M974.3 318.5H1006.3M990.3 312.5V324.5M974.3 301V336M1006.3 301V336M972.8 312.5H1007.8M972.8 324.5H1007.8M1034.2 293.1H1057M1045.6 263.1V323.1M1034.2 275.6V310.6M1057 275.6V310.6M1028.1 263.1H1063.1M1028.1 323.1H1063.1M1092.5 275.5H1117.5M1105 254.5V296.5M1092.5 258V293M1117.5 258V293M1087.5 254.5H1122.5M1087.5 296.5H1122.5M1156.9 253H1184.1M1170.5 238.5V267.5M1156.9 235.5V270.5M1184.1 235.5V270.5M1153 238.5H1188M1153 267.5H1188M1233.9 231.5H1248.7M1241.3 220V243M1233.9 214V249M1248.7 214V249M1223.8 220H1258.8M1223.8 243H1258.8M1309.6 204.5H1326.8M1318.2 193V216M1309.6 187V222M1326.8 187V222M1300.7 193H1335.7M1300.7 216H1335.7M1393.7 181.3H1411.9M1402.8 165.3V197.3M1393.7 163.8V198.8M1411.9 163.8V198.8M1385.3 165.3H1420.3M1385.3 197.3H1420.3M1486.9 157.3H1506.5M1496.7 146.3V168.3M1486.9 139.8V174.8M1506.5 139.8V174.8M1479.2 146.3H1514.2M1479.2 168.3H1514.2" stroke="#440154" stroke-width="5.0" fill="none"/><circle cx="939.2" cy="334.5" r="9"/><circle cx="990.3" cy="318.5" r="9"/><circle cx="1045.6" cy="293.1" r="9"/><circle cx="1105" cy="275.5" r="9"/><circle cx="1170.5" cy="253" r="9"/><circle cx="1241.3" cy="231.5" r="9"/><circle cx="1318.2" cy="204.5" r="9"/><circle cx="1402.8" cy="181.3" r="9"/><circle cx="1496.7" cy="157.3" r="9"/></g>
<line x1="862.5" y1="271.9" x2="1552.9" y2="42.3" stroke="#35b779" stroke-width="6.67" stroke-dasharray="6.67 11" stroke-dashoffset="-2.5"/>
<line x1="862.5" y1="354.4" x2="1552.9" y2="133.9" stroke="#440154" stroke-width="6.67" stroke-dasharray="6.67 11" stroke-dashoffset="-2.5"/>
<line x1="862.5" y1="379.8" x2="1552.9" y2="161.1" stroke="#31688e" stroke-width="6.67" stroke-dasharray="6.67 11" stroke-dashoffset="-2.5"/>
</g>
<rect x="862.5" y="1.7" width="690.4000000000001" height="630.9" fill="none" stroke="#000" stroke-width="3.7"/>
<line x1="972.90" y1="632.6" x2="972.90" y2="648.6" stroke="#000" stroke-width="3.7"/>
<text x="933.35" y="696" font-size="46.3" textLength="79.67" lengthAdjust="spacingAndGlyphs">2.50</text>
<line x1="1110.95" y1="632.6" x2="1110.95" y2="648.6" stroke="#000" stroke-width="3.7"/>
<text x="1071.4" y="696" font-size="46.3" textLength="79.67" lengthAdjust="spacingAndGlyphs">2.75</text>
<line x1="1249.00" y1="632.6" x2="1249.00" y2="648.6" stroke="#000" stroke-width="3.7"/>
<text x="1209.45" y="696" font-size="46.3" textLength="79.67" lengthAdjust="spacingAndGlyphs">3.00</text>
<line x1="1387.05" y1="632.6" x2="1387.05" y2="648.6" stroke="#000" stroke-width="3.7"/>
<text x="1347.5" y="696" font-size="46.3" textLength="79.67" lengthAdjust="spacingAndGlyphs">3.25</text>
<line x1="1525.10" y1="632.6" x2="1525.10" y2="648.6" stroke="#000" stroke-width="3.7"/>
<text x="1485.55" y="696" font-size="46.3" textLength="79.67" lengthAdjust="spacingAndGlyphs">3.50</text>
<line x1="1552.9" y1="102.90" x2="1568.9" y2="102.90" stroke="#000" stroke-width="3.7"/>
<text x="1583.54" y="119.1" font-size="46.3" textLength="24.52" lengthAdjust="spacingAndGlyphs">0</text>
<line x1="1552.9" y1="229.15" x2="1568.9" y2="229.15" stroke="#000" stroke-width="3.7"/>
<text x="1584.85" y="245.35" font-size="46.3" textLength="33.23" lengthAdjust="spacingAndGlyphs">−</text><text x="1616.67" y="245.35" font-size="46.3" textLength="24.37" lengthAdjust="spacingAndGlyphs">5</text>
<line x1="1552.9" y1="355.40" x2="1568.9" y2="355.40" stroke="#000" stroke-width="3.7"/>
<text x="1584.85" y="371.6" font-size="46.3" textLength="33.23" lengthAdjust="spacingAndGlyphs">−</text><text x="1618.16" y="371.6" font-size="46.3" textLength="45.14" lengthAdjust="spacingAndGlyphs">10</text>
<line x1="1552.9" y1="481.65" x2="1568.9" y2="481.65" stroke="#000" stroke-width="3.7"/>
<text x="1584.85" y="497.85" font-size="46.3" textLength="33.23" lengthAdjust="spacingAndGlyphs">−</text><text x="1618.16" y="497.85" font-size="46.3" textLength="45.14" lengthAdjust="spacingAndGlyphs">15</text>
<line x1="1552.9" y1="607.90" x2="1568.9" y2="607.90" stroke="#000" stroke-width="3.7"/>
<text x="1584.85" y="624.1" font-size="46.3" textLength="33.23" lengthAdjust="spacingAndGlyphs">−</text><text x="1620.06" y="624.1" font-size="46.3" textLength="43.17" lengthAdjust="spacingAndGlyphs">20</text>
<text x="1076.86" y="755.7" font-size="46.3" textLength="21.41" lengthAdjust="spacingAndGlyphs">1</text><text transform="matrix(1.37 0 0 1.46 1101.7 766.32)" font-size="46.3">/</text><text x="1120.01" y="755.7" font-size="46.3" textLength="29.83" lengthAdjust="spacingAndGlyphs" font-style="italic">T</text><text transform="matrix(0.66 0 0 1.19 1171.02 759.57)" font-size="46.3">[</text><text x="1180.51" y="755.7" font-size="46.3" textLength="89.07" lengthAdjust="spacingAndGlyphs">1000</text><text transform="matrix(1.3 0 0 1.46 1271.3 766.32)" font-size="46.3">/</text><text x="1290.78" y="755.7" font-size="46.3" textLength="34.09" lengthAdjust="spacingAndGlyphs">K</text><text transform="matrix(0.64 0 0 1.19 1324.96 759.57)" font-size="46.3">]</text>
<text x="897.8" y="63.5" font-size="46.3">b)</text>
<g transform="translate(1713.6,427.5) rotate(-90)"><text x="-0.88" y="0" font-size="46.3" textLength="34.35" lengthAdjust="spacingAndGlyphs">ln</text><text transform="matrix(0.92 0 0 1.08 37.28 0.77)" font-size="46.3">(</text><text x="52.12" y="0" font-size="46.3" textLength="21.18" lengthAdjust="spacingAndGlyphs" font-style="italic">τ</text><text transform="matrix(1.04 0 0 1.08 75.36 0.77)" font-size="46.3">)</text><text transform="matrix(0.46 0 0 1.18 113.1 4.12)" font-size="46.3">[</text><text x="121.6" y="0" font-size="46.3" textLength="35.18" lengthAdjust="spacingAndGlyphs">ln</text><text transform="matrix(0.86 0 0 1.08 161.5 0.77)" font-size="46.3">(</text><text x="174.01" y="0" font-size="46.3" textLength="17.42" lengthAdjust="spacingAndGlyphs">s</text><text transform="matrix(0.91 0 0 1.08 193.33 0.77)" font-size="46.3">)</text><text transform="matrix(0.45 0 0 1.18 211.07 4.12)" font-size="46.3">]</text></g>
<rect x="1179.3" y="336.2" width="352.4000000000001" height="182.59999999999997" fill="#fff" stroke="none"/>
<g fill="#31688e"><path d="M1208.4 471V511M1195.2 471H1221.6M1195.2 511H1221.6M1226.3 475.4V482.9M1213.1 475.4H1239.5M1213.1 482.9H1239.5M1340.8 393.1V437M1327.6 393.1H1354M1327.6 437H1354M1413.9 343.8V379.3M1400.7 343.8H1427.1M1400.7 379.3H1427.1M1458.2 423.2V439M1445 423.2H1471.4M1445 439H1471.4M1502 467.5V495.4M1488.8 467.5H1515.2M1488.8 495.4H1515.2" stroke="#31688e" stroke-width="5.2" fill="none"/><circle cx="1208.4" cy="484" r="6.3"/><circle cx="1226.3" cy="479.3" r="6.3"/><circle cx="1340.8" cy="406.9" r="6.3"/><circle cx="1413.9" cy="356.3" r="6.3"/><circle cx="1458.2" cy="430.7" r="6.3"/><circle cx="1502" cy="477.9" r="6.3"/></g>
<rect x="1179.3" y="336.2" width="352.4000000000001" height="182.59999999999997" fill="none" stroke="#000" stroke-width="3.7"/>
<line x1="1208.50" y1="518.8" x2="1208.50" y2="534.8" stroke="#000" stroke-width="3.7"/>
<text x="1184.32" y="576" font-size="36" textLength="49.36" lengthAdjust="spacingAndGlyphs">0.0</text>
<line x1="1355.25" y1="518.8" x2="1355.25" y2="534.8" stroke="#000" stroke-width="3.7"/>
<text x="1330.03" y="576" font-size="36" textLength="49.15" lengthAdjust="spacingAndGlyphs">0.5</text>
<line x1="1502.00" y1="518.8" x2="1502.00" y2="534.8" stroke="#000" stroke-width="3.7"/>
<text x="1476.52" y="576" font-size="36" textLength="49.67" lengthAdjust="spacingAndGlyphs">1.0</text>
<line x1="1179.3" y1="348.80" x2="1163.3" y2="348.80" stroke="#000" stroke-width="3.7"/>
<text x="1094.13" y="361.3" font-size="36" textLength="38.51" lengthAdjust="spacingAndGlyphs">10</text><text x="1132.1" y="348.6" font-size="26.3" textLength="16.19" lengthAdjust="spacingAndGlyphs">0</text>
<line x1="1179.3" y1="406.90" x2="1163.3" y2="406.90" stroke="#000" stroke-width="3.7"/>
<text x="1068.56" y="419.4" font-size="36" textLength="38.17" lengthAdjust="spacingAndGlyphs">10</text><text x="1108.13" y="406.7" font-size="26.3" textLength="39.89" lengthAdjust="spacingAndGlyphs">−1</text>
<line x1="1179.3" y1="465.00" x2="1163.3" y2="465.00" stroke="#000" stroke-width="3.7"/>
<text x="1068.56" y="477.5" font-size="36" textLength="38.17" lengthAdjust="spacingAndGlyphs">10</text><text x="1108.14" y="464.8" font-size="26.3" textLength="39.68" lengthAdjust="spacingAndGlyphs">−2</text>
<line x1="1179.3" y1="505.61" x2="1170.1" y2="505.61" stroke="#000" stroke-width="2.75"/>
<line x1="1179.3" y1="495.38" x2="1170.1" y2="495.38" stroke="#000" stroke-width="2.75"/>
<line x1="1179.3" y1="488.12" x2="1170.1" y2="488.12" stroke="#000" stroke-width="2.75"/>
<line x1="1179.3" y1="482.49" x2="1170.1" y2="482.49" stroke="#000" stroke-width="2.75"/>
<line x1="1179.3" y1="477.89" x2="1170.1" y2="477.89" stroke="#000" stroke-width="2.75"/>
<line x1="1179.3" y1="474.00" x2="1170.1" y2="474.00" stroke="#000" stroke-width="2.75"/>
<line x1="1179.3" y1="470.63" x2="1170.1" y2="470.63" stroke="#000" stroke-width="2.75"/>
<line x1="1179.3" y1="467.66" x2="1170.1" y2="467.66" stroke="#000" stroke-width="2.75"/>
<line x1="1179.3" y1="447.51" x2="1170.1" y2="447.51" stroke="#000" stroke-width="2.75"/>
<line x1="1179.3" y1="437.28" x2="1170.1" y2="437.28" stroke="#000" stroke-width="2.75"/>
<line x1="1179.3" y1="430.02" x2="1170.1" y2="430.02" stroke="#000" stroke-width="2.75"/>
<line x1="1179.3" y1="424.39" x2="1170.1" y2="424.39" stroke="#000" stroke-width="2.75"/>
<line x1="1179.3" y1="419.79" x2="1170.1" y2="419.79" stroke="#000" stroke-width="2.75"/>
<line x1="1179.3" y1="415.90" x2="1170.1" y2="415.90" stroke="#000" stroke-width="2.75"/>
<line x1="1179.3" y1="412.53" x2="1170.1" y2="412.53" stroke="#000" stroke-width="2.75"/>
<line x1="1179.3" y1="409.56" x2="1170.1" y2="409.56" stroke="#000" stroke-width="2.75"/>
<line x1="1179.3" y1="389.41" x2="1170.1" y2="389.41" stroke="#000" stroke-width="2.75"/>
<line x1="1179.3" y1="379.18" x2="1170.1" y2="379.18" stroke="#000" stroke-width="2.75"/>
<line x1="1179.3" y1="371.92" x2="1170.1" y2="371.92" stroke="#000" stroke-width="2.75"/>
<line x1="1179.3" y1="366.29" x2="1170.1" y2="366.29" stroke="#000" stroke-width="2.75"/>
<line x1="1179.3" y1="361.69" x2="1170.1" y2="361.69" stroke="#000" stroke-width="2.75"/>
<line x1="1179.3" y1="357.80" x2="1170.1" y2="357.80" stroke="#000" stroke-width="2.75"/>
<line x1="1179.3" y1="354.43" x2="1170.1" y2="354.43" stroke="#000" stroke-width="2.75"/>
<line x1="1179.3" y1="351.46" x2="1170.1" y2="351.46" stroke="#000" stroke-width="2.75"/>
<text x="1346.43" y="624.8" font-size="36" textLength="18.74" lengthAdjust="spacingAndGlyphs" font-style="italic">x</text>
<g transform="translate(1042.3,461) rotate(-90)"><text x="-0.96" y="0" font-size="36" textLength="17.12" lengthAdjust="spacingAndGlyphs" font-style="italic">τ</text><text x="34.44" y="0" font-size="36" textLength="30.43" lengthAdjust="spacingAndGlyphs">[s]</text></g>
</svg>
</body></html>
